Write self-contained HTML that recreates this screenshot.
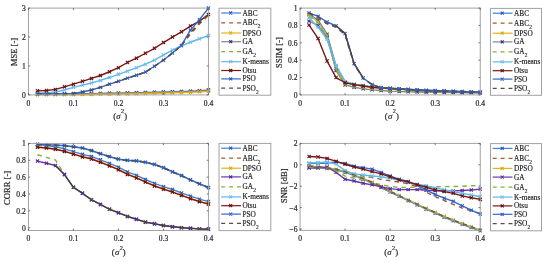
<!DOCTYPE html>
<html><head><meta charset="utf-8"><style>html,body{margin:0;padding:0;background:#fff;overflow:hidden}svg{display:block;filter:blur(0.3px)}</style></head>
<body><svg width="550" height="263" viewBox="0 0 550 263" font-family="'Liberation Serif','Times New Roman',serif">
<rect width="550" height="263" fill="#fff"/>
<clipPath id="c0"><rect x="28.45" y="5.1" width="183.0" height="92.80000000000001"/></clipPath>
<g clip-path="url(#c0)" fill="none" stroke-linejoin="round">
<polyline points="37.45,94.35 46.45,94.30 55.45,94.21 64.45,94.13 73.45,94.02 82.45,93.91 91.45,93.80 100.45,93.66 109.45,93.53 118.45,93.39 127.45,93.25 136.45,93.09 145.45,92.92 154.45,92.70 163.45,92.48 172.45,92.26 181.45,92.01 190.45,91.74 199.45,91.33 208.45,90.78" stroke="#7db33a" stroke-width="1.4" stroke-dasharray="4.5,4.2"/>
<polyline points="37.45,94.25 46.45,94.19 55.45,94.09 64.45,93.99 73.45,93.86 82.45,93.73 91.45,93.60 100.45,93.44 109.45,93.28 118.45,93.12 127.45,92.96 136.45,92.76 145.45,92.57 154.45,92.31 163.45,92.05 172.45,91.79 181.45,91.50 190.45,91.17 199.45,90.69 208.45,90.04" stroke="#85858f" stroke-width="1.4"/>
<path d="M35.85,92.65L39.05,95.85M35.85,95.85L39.05,92.65" stroke="#3b2c91" stroke-width="1.1"/>
<path d="M44.85,92.59L48.05,95.79M44.85,95.79L48.05,92.59" stroke="#3b2c91" stroke-width="1.1"/>
<path d="M53.85,92.49L57.05,95.69M53.85,95.69L57.05,92.49" stroke="#3b2c91" stroke-width="1.1"/>
<path d="M62.85,92.39L66.05,95.59M62.85,95.59L66.05,92.39" stroke="#3b2c91" stroke-width="1.1"/>
<path d="M71.85,92.26L75.05,95.46M71.85,95.46L75.05,92.26" stroke="#3b2c91" stroke-width="1.1"/>
<path d="M80.85,92.13L84.05,95.33M80.85,95.33L84.05,92.13" stroke="#3b2c91" stroke-width="1.1"/>
<path d="M89.85,92.00L93.05,95.20M89.85,95.20L93.05,92.00" stroke="#3b2c91" stroke-width="1.1"/>
<path d="M98.85,91.84L102.05,95.04M98.85,95.04L102.05,91.84" stroke="#3b2c91" stroke-width="1.1"/>
<path d="M107.85,91.68L111.05,94.88M107.85,94.88L111.05,91.68" stroke="#3b2c91" stroke-width="1.1"/>
<path d="M116.85,91.52L120.05,94.72M116.85,94.72L120.05,91.52" stroke="#3b2c91" stroke-width="1.1"/>
<path d="M125.85,91.36L129.05,94.56M125.85,94.56L129.05,91.36" stroke="#3b2c91" stroke-width="1.1"/>
<path d="M134.85,91.16L138.05,94.36M134.85,94.36L138.05,91.16" stroke="#3b2c91" stroke-width="1.1"/>
<path d="M143.85,90.97L147.05,94.17M143.85,94.17L147.05,90.97" stroke="#3b2c91" stroke-width="1.1"/>
<path d="M152.85,90.71L156.05,93.91M152.85,93.91L156.05,90.71" stroke="#3b2c91" stroke-width="1.1"/>
<path d="M161.85,90.45L165.05,93.65M161.85,93.65L165.05,90.45" stroke="#3b2c91" stroke-width="1.1"/>
<path d="M170.85,90.19L174.05,93.39M170.85,93.39L174.05,90.19" stroke="#3b2c91" stroke-width="1.1"/>
<path d="M179.85,89.90L183.05,93.10M179.85,93.10L183.05,89.90" stroke="#3b2c91" stroke-width="1.1"/>
<path d="M188.85,89.57L192.05,92.77M188.85,92.77L192.05,89.57" stroke="#3b2c91" stroke-width="1.1"/>
<path d="M197.85,89.09L201.05,92.29M197.85,92.29L201.05,89.09" stroke="#3b2c91" stroke-width="1.1"/>
<path d="M206.85,88.44L210.05,91.64M206.85,91.64L210.05,88.44" stroke="#3b2c91" stroke-width="1.1"/>
<polyline points="37.45,94.32 46.45,94.26 55.45,94.18 64.45,94.09 73.45,93.97 82.45,93.86 91.45,93.74 100.45,93.60 109.45,93.45 118.45,93.31 127.45,93.16 136.45,92.99 145.45,92.82 154.45,92.59 163.45,92.35 172.45,92.12 181.45,91.86 190.45,91.57 199.45,91.14 208.45,90.56" stroke="#4a7fd6" stroke-width="1.4"/>
<path d="M35.85,92.72L39.05,95.92M35.85,95.92L39.05,92.72" stroke="#1f55c9" stroke-width="1.1"/>
<path d="M44.85,92.66L48.05,95.86M44.85,95.86L48.05,92.66" stroke="#1f55c9" stroke-width="1.1"/>
<path d="M53.85,92.58L57.05,95.78M53.85,95.78L57.05,92.58" stroke="#1f55c9" stroke-width="1.1"/>
<path d="M62.85,92.49L66.05,95.69M62.85,95.69L66.05,92.49" stroke="#1f55c9" stroke-width="1.1"/>
<path d="M71.85,92.37L75.05,95.57M71.85,95.57L75.05,92.37" stroke="#1f55c9" stroke-width="1.1"/>
<path d="M80.85,92.26L84.05,95.46M80.85,95.46L84.05,92.26" stroke="#1f55c9" stroke-width="1.1"/>
<path d="M89.85,92.14L93.05,95.34M89.85,95.34L93.05,92.14" stroke="#1f55c9" stroke-width="1.1"/>
<path d="M98.85,92.00L102.05,95.20M98.85,95.20L102.05,92.00" stroke="#1f55c9" stroke-width="1.1"/>
<path d="M107.85,91.85L111.05,95.05M107.85,95.05L111.05,91.85" stroke="#1f55c9" stroke-width="1.1"/>
<path d="M116.85,91.71L120.05,94.91M116.85,94.91L120.05,91.71" stroke="#1f55c9" stroke-width="1.1"/>
<path d="M125.85,91.56L129.05,94.76M125.85,94.76L129.05,91.56" stroke="#1f55c9" stroke-width="1.1"/>
<path d="M134.85,91.39L138.05,94.59M134.85,94.59L138.05,91.39" stroke="#1f55c9" stroke-width="1.1"/>
<path d="M143.85,91.22L147.05,94.42M143.85,94.42L147.05,91.22" stroke="#1f55c9" stroke-width="1.1"/>
<path d="M152.85,90.99L156.05,94.19M152.85,94.19L156.05,90.99" stroke="#1f55c9" stroke-width="1.1"/>
<path d="M161.85,90.75L165.05,93.95M161.85,93.95L165.05,90.75" stroke="#1f55c9" stroke-width="1.1"/>
<path d="M170.85,90.52L174.05,93.72M170.85,93.72L174.05,90.52" stroke="#1f55c9" stroke-width="1.1"/>
<path d="M179.85,90.26L183.05,93.46M179.85,93.46L183.05,90.26" stroke="#1f55c9" stroke-width="1.1"/>
<path d="M188.85,89.97L192.05,93.17M188.85,93.17L192.05,89.97" stroke="#1f55c9" stroke-width="1.1"/>
<path d="M197.85,89.54L201.05,92.74M197.85,92.74L201.05,89.54" stroke="#1f55c9" stroke-width="1.1"/>
<path d="M206.85,88.96L210.05,92.16M206.85,92.16L210.05,88.96" stroke="#1f55c9" stroke-width="1.1"/>
<polyline points="37.45,94.81 46.45,94.81 55.45,94.81 64.45,94.81 73.45,94.70 82.45,94.58 91.45,94.47 100.45,94.32 109.45,94.18 118.45,94.03 127.45,93.89 136.45,93.71 145.45,93.54 154.45,93.31 163.45,93.08 172.45,92.85 181.45,92.59 190.45,92.30 199.45,91.86 208.45,91.28" stroke="#e3b21e" stroke-width="1.4"/>
<path d="M35.85,93.21L39.05,96.41M35.85,96.41L39.05,93.21" stroke="#e0a800" stroke-width="1.1"/>
<path d="M44.85,93.21L48.05,96.41M44.85,96.41L48.05,93.21" stroke="#e0a800" stroke-width="1.1"/>
<path d="M53.85,93.21L57.05,96.41M53.85,96.41L57.05,93.21" stroke="#e0a800" stroke-width="1.1"/>
<path d="M62.85,93.21L66.05,96.41M62.85,96.41L66.05,93.21" stroke="#e0a800" stroke-width="1.1"/>
<path d="M71.85,93.10L75.05,96.30M71.85,96.30L75.05,93.10" stroke="#e0a800" stroke-width="1.1"/>
<path d="M80.85,92.98L84.05,96.18M80.85,96.18L84.05,92.98" stroke="#e0a800" stroke-width="1.1"/>
<path d="M89.85,92.87L93.05,96.07M89.85,96.07L93.05,92.87" stroke="#e0a800" stroke-width="1.1"/>
<path d="M98.85,92.72L102.05,95.92M98.85,95.92L102.05,92.72" stroke="#e0a800" stroke-width="1.1"/>
<path d="M107.85,92.58L111.05,95.78M107.85,95.78L111.05,92.58" stroke="#e0a800" stroke-width="1.1"/>
<path d="M116.85,92.43L120.05,95.63M116.85,95.63L120.05,92.43" stroke="#e0a800" stroke-width="1.1"/>
<path d="M125.85,92.29L129.05,95.49M125.85,95.49L129.05,92.29" stroke="#e0a800" stroke-width="1.1"/>
<path d="M134.85,92.11L138.05,95.31M134.85,95.31L138.05,92.11" stroke="#e0a800" stroke-width="1.1"/>
<path d="M143.85,91.94L147.05,95.14M143.85,95.14L147.05,91.94" stroke="#e0a800" stroke-width="1.1"/>
<path d="M152.85,91.71L156.05,94.91M152.85,94.91L156.05,91.71" stroke="#e0a800" stroke-width="1.1"/>
<path d="M161.85,91.48L165.05,94.68M161.85,94.68L165.05,91.48" stroke="#e0a800" stroke-width="1.1"/>
<path d="M170.85,91.25L174.05,94.45M170.85,94.45L174.05,91.25" stroke="#e0a800" stroke-width="1.1"/>
<path d="M179.85,90.99L183.05,94.19M179.85,94.19L183.05,90.99" stroke="#e0a800" stroke-width="1.1"/>
<path d="M188.85,90.70L192.05,93.90M188.85,93.90L192.05,90.70" stroke="#e0a800" stroke-width="1.1"/>
<path d="M197.85,90.26L201.05,93.46M197.85,93.46L201.05,90.26" stroke="#e0a800" stroke-width="1.1"/>
<path d="M206.85,89.68L210.05,92.88M206.85,92.88L210.05,89.68" stroke="#e0a800" stroke-width="1.1"/>
<polyline points="37.45,94.03 46.45,94.03 55.45,93.89 64.45,93.74 73.45,93.45 82.45,92.01 91.45,89.98 100.45,87.38 109.45,84.19 118.45,81.30 127.45,78.12 136.45,75.23 145.45,72.04 154.45,66.26 163.45,60.18 172.45,52.95 181.45,45.42 190.45,34.14 199.45,24.01 208.45,15.33" stroke="#a85a30" stroke-width="1.4" stroke-dasharray="4.5,4.2"/>
<polyline points="37.45,92.87 46.45,92.87 55.45,92.01 64.45,89.98 73.45,87.38 82.45,85.06 91.45,83.04 100.45,80.43 109.45,77.54 118.45,74.36 127.45,71.17 136.45,67.70 145.45,64.23 154.45,60.18 163.45,54.97 172.45,50.05 181.45,45.71 190.45,42.24 199.45,38.77 208.45,35.59" stroke="#5db7ec" stroke-width="1.4"/>
<path d="M35.85,91.27L39.05,94.47M35.85,94.47L39.05,91.27" stroke="#6fc0f0" stroke-width="1.1"/>
<path d="M44.85,91.27L48.05,94.47M44.85,94.47L48.05,91.27" stroke="#6fc0f0" stroke-width="1.1"/>
<path d="M53.85,90.41L57.05,93.61M53.85,93.61L57.05,90.41" stroke="#6fc0f0" stroke-width="1.1"/>
<path d="M62.85,88.38L66.05,91.58M62.85,91.58L66.05,88.38" stroke="#6fc0f0" stroke-width="1.1"/>
<path d="M71.85,85.78L75.05,88.98M71.85,88.98L75.05,85.78" stroke="#6fc0f0" stroke-width="1.1"/>
<path d="M80.85,83.46L84.05,86.66M80.85,86.66L84.05,83.46" stroke="#6fc0f0" stroke-width="1.1"/>
<path d="M89.85,81.44L93.05,84.64M89.85,84.64L93.05,81.44" stroke="#6fc0f0" stroke-width="1.1"/>
<path d="M98.85,78.83L102.05,82.03M98.85,82.03L102.05,78.83" stroke="#6fc0f0" stroke-width="1.1"/>
<path d="M107.85,75.94L111.05,79.14M107.85,79.14L111.05,75.94" stroke="#6fc0f0" stroke-width="1.1"/>
<path d="M116.85,72.76L120.05,75.96M116.85,75.96L120.05,72.76" stroke="#6fc0f0" stroke-width="1.1"/>
<path d="M125.85,69.57L129.05,72.77M125.85,72.77L129.05,69.57" stroke="#6fc0f0" stroke-width="1.1"/>
<path d="M134.85,66.10L138.05,69.30M134.85,69.30L138.05,66.10" stroke="#6fc0f0" stroke-width="1.1"/>
<path d="M143.85,62.63L147.05,65.83M143.85,65.83L147.05,62.63" stroke="#6fc0f0" stroke-width="1.1"/>
<path d="M152.85,58.58L156.05,61.78M152.85,61.78L156.05,58.58" stroke="#6fc0f0" stroke-width="1.1"/>
<path d="M161.85,53.37L165.05,56.57M161.85,56.57L165.05,53.37" stroke="#6fc0f0" stroke-width="1.1"/>
<path d="M170.85,48.45L174.05,51.65M170.85,51.65L174.05,48.45" stroke="#6fc0f0" stroke-width="1.1"/>
<path d="M179.85,44.11L183.05,47.31M179.85,47.31L183.05,44.11" stroke="#6fc0f0" stroke-width="1.1"/>
<path d="M188.85,40.64L192.05,43.84M188.85,43.84L192.05,40.64" stroke="#6fc0f0" stroke-width="1.1"/>
<path d="M197.85,37.17L201.05,40.37M197.85,40.37L201.05,37.17" stroke="#6fc0f0" stroke-width="1.1"/>
<path d="M206.85,33.99L210.05,37.19M206.85,37.19L210.05,33.99" stroke="#6fc0f0" stroke-width="1.1"/>
<polyline points="37.45,90.70 46.45,90.56 55.45,89.40 64.45,86.80 73.45,84.19 82.45,81.30 91.45,78.41 100.45,75.51 109.45,71.75 118.45,67.70 127.45,62.49 136.45,58.15 145.45,53.24 154.45,48.32 163.45,42.53 172.45,37.03 181.45,31.83 190.45,26.04 199.45,21.12 208.45,14.47" stroke="#7b1717" stroke-width="1.4"/>
<path d="M35.85,89.10L39.05,92.30M35.85,92.30L39.05,89.10" stroke="#6a1010" stroke-width="1.1"/>
<path d="M44.85,88.96L48.05,92.16M44.85,92.16L48.05,88.96" stroke="#6a1010" stroke-width="1.1"/>
<path d="M53.85,87.80L57.05,91.00M53.85,91.00L57.05,87.80" stroke="#6a1010" stroke-width="1.1"/>
<path d="M62.85,85.20L66.05,88.40M62.85,88.40L66.05,85.20" stroke="#6a1010" stroke-width="1.1"/>
<path d="M71.85,82.59L75.05,85.79M71.85,85.79L75.05,82.59" stroke="#6a1010" stroke-width="1.1"/>
<path d="M80.85,79.70L84.05,82.90M80.85,82.90L84.05,79.70" stroke="#6a1010" stroke-width="1.1"/>
<path d="M89.85,76.81L93.05,80.01M89.85,80.01L93.05,76.81" stroke="#6a1010" stroke-width="1.1"/>
<path d="M98.85,73.91L102.05,77.11M98.85,77.11L102.05,73.91" stroke="#6a1010" stroke-width="1.1"/>
<path d="M107.85,70.15L111.05,73.35M107.85,73.35L111.05,70.15" stroke="#6a1010" stroke-width="1.1"/>
<path d="M116.85,66.10L120.05,69.30M116.85,69.30L120.05,66.10" stroke="#6a1010" stroke-width="1.1"/>
<path d="M125.85,60.89L129.05,64.09M125.85,64.09L129.05,60.89" stroke="#6a1010" stroke-width="1.1"/>
<path d="M134.85,56.55L138.05,59.75M134.85,59.75L138.05,56.55" stroke="#6a1010" stroke-width="1.1"/>
<path d="M143.85,51.64L147.05,54.84M143.85,54.84L147.05,51.64" stroke="#6a1010" stroke-width="1.1"/>
<path d="M152.85,46.72L156.05,49.92M152.85,49.92L156.05,46.72" stroke="#6a1010" stroke-width="1.1"/>
<path d="M161.85,40.93L165.05,44.13M161.85,44.13L165.05,40.93" stroke="#6a1010" stroke-width="1.1"/>
<path d="M170.85,35.43L174.05,38.63M170.85,38.63L174.05,35.43" stroke="#6a1010" stroke-width="1.1"/>
<path d="M179.85,30.23L183.05,33.43M179.85,33.43L183.05,30.23" stroke="#6a1010" stroke-width="1.1"/>
<path d="M188.85,24.44L192.05,27.64M188.85,27.64L192.05,24.44" stroke="#6a1010" stroke-width="1.1"/>
<path d="M197.85,19.52L201.05,22.72M197.85,22.72L201.05,19.52" stroke="#6a1010" stroke-width="1.1"/>
<path d="M206.85,12.87L210.05,16.07M206.85,16.07L210.05,12.87" stroke="#6a1010" stroke-width="1.1"/>
<polyline points="37.45,94.03 46.45,94.03 55.45,93.89 64.45,93.74 73.45,93.45 82.45,92.01 91.45,89.98 100.45,87.38 109.45,84.19 118.45,81.30 127.45,78.12 136.45,75.23 145.45,72.04 154.45,66.26 163.45,60.18 172.45,52.95 181.45,45.42 190.45,30.09 199.45,19.67 208.45,8.10" stroke="#3566c4" stroke-width="1.4"/>
<path d="M35.85,92.43L39.05,95.63M35.85,95.63L39.05,92.43" stroke="#2a5fcf" stroke-width="1.1"/>
<path d="M44.85,92.43L48.05,95.63M44.85,95.63L48.05,92.43" stroke="#2a5fcf" stroke-width="1.1"/>
<path d="M53.85,92.29L57.05,95.49M53.85,95.49L57.05,92.29" stroke="#2a5fcf" stroke-width="1.1"/>
<path d="M62.85,92.14L66.05,95.34M62.85,95.34L66.05,92.14" stroke="#2a5fcf" stroke-width="1.1"/>
<path d="M71.85,91.85L75.05,95.05M71.85,95.05L75.05,91.85" stroke="#2a5fcf" stroke-width="1.1"/>
<path d="M80.85,90.41L84.05,93.61M80.85,93.61L84.05,90.41" stroke="#2a5fcf" stroke-width="1.1"/>
<path d="M89.85,88.38L93.05,91.58M89.85,91.58L93.05,88.38" stroke="#2a5fcf" stroke-width="1.1"/>
<path d="M98.85,85.78L102.05,88.98M98.85,88.98L102.05,85.78" stroke="#2a5fcf" stroke-width="1.1"/>
<path d="M107.85,82.59L111.05,85.79M107.85,85.79L111.05,82.59" stroke="#2a5fcf" stroke-width="1.1"/>
<path d="M116.85,79.70L120.05,82.90M116.85,82.90L120.05,79.70" stroke="#2a5fcf" stroke-width="1.1"/>
<path d="M125.85,76.52L129.05,79.72M125.85,79.72L129.05,76.52" stroke="#2a5fcf" stroke-width="1.1"/>
<path d="M134.85,73.63L138.05,76.83M134.85,76.83L138.05,73.63" stroke="#2a5fcf" stroke-width="1.1"/>
<path d="M143.85,70.44L147.05,73.64M143.85,73.64L147.05,70.44" stroke="#2a5fcf" stroke-width="1.1"/>
<path d="M152.85,64.66L156.05,67.86M152.85,67.86L156.05,64.66" stroke="#2a5fcf" stroke-width="1.1"/>
<path d="M161.85,58.58L165.05,61.78M161.85,61.78L165.05,58.58" stroke="#2a5fcf" stroke-width="1.1"/>
<path d="M170.85,51.35L174.05,54.55M170.85,54.55L174.05,51.35" stroke="#2a5fcf" stroke-width="1.1"/>
<path d="M179.85,43.82L183.05,47.02M179.85,47.02L183.05,43.82" stroke="#2a5fcf" stroke-width="1.1"/>
<path d="M188.85,28.49L192.05,31.69M188.85,31.69L192.05,28.49" stroke="#2a5fcf" stroke-width="1.1"/>
<path d="M197.85,18.07L201.05,21.27M197.85,21.27L201.05,18.07" stroke="#2a5fcf" stroke-width="1.1"/>
<path d="M206.85,6.50L210.05,9.70M206.85,9.70L210.05,6.50" stroke="#2a5fcf" stroke-width="1.1"/>
<polyline points="37.45,94.03 46.45,94.03 55.45,93.89 64.45,93.74 73.45,93.45 82.45,92.01 91.45,89.98 100.45,87.38 109.45,84.19 118.45,81.30 127.45,78.12 136.45,75.23 145.45,72.04 154.45,66.26 163.45,60.18 172.45,52.95 181.45,45.42 190.45,32.69 199.45,22.57 208.45,13.89" stroke="#5a4c42" stroke-width="1.4" stroke-dasharray="4.5,4.2"/>
</g>
<rect x="28.45" y="8.1" width="180.0" height="86.80000000000001" fill="none" stroke="#a2a2a2" stroke-width="1"/>
<path d="M28.45,94.9v-1.8M28.45,8.1v1.8M73.45,94.9v-1.8M73.45,8.1v1.8M118.45,94.9v-1.8M118.45,8.1v1.8M163.45,94.9v-1.8M163.45,8.1v1.8M208.45,94.9v-1.8M208.45,8.1v1.8M28.45,94.90h1.8M208.45,94.90h-1.8M28.45,65.97h1.8M208.45,65.97h-1.8M28.45,37.03h1.8M208.45,37.03h-1.8M28.45,8.10h1.8M208.45,8.10h-1.8" stroke="#555" stroke-width="0.8" fill="none"/>
<text x="28.45" y="105.50" font-size="7.6" fill="#262626" stroke="#262626" stroke-width="0.2" text-anchor="middle">0</text>
<text x="73.45" y="105.50" font-size="7.6" fill="#262626" stroke="#262626" stroke-width="0.2" text-anchor="middle">0.1</text>
<text x="118.45" y="105.50" font-size="7.6" fill="#262626" stroke="#262626" stroke-width="0.2" text-anchor="middle">0.2</text>
<text x="163.45" y="105.50" font-size="7.6" fill="#262626" stroke="#262626" stroke-width="0.2" text-anchor="middle">0.3</text>
<text x="208.45" y="105.50" font-size="7.6" fill="#262626" stroke="#262626" stroke-width="0.2" text-anchor="middle">0.4</text>
<text x="25.85" y="97.80" font-size="7.6" fill="#262626" stroke="#262626" stroke-width="0.2" text-anchor="end">0</text>
<text x="25.85" y="68.87" font-size="7.6" fill="#262626" stroke="#262626" stroke-width="0.2" text-anchor="end">1</text>
<text x="25.85" y="39.93" font-size="7.6" fill="#262626" stroke="#262626" stroke-width="0.2" text-anchor="end">2</text>
<text x="25.85" y="11.00" font-size="7.6" fill="#262626" stroke="#262626" stroke-width="0.2" text-anchor="end">3</text>
<text x="120.15" y="118.60" font-size="8.6" fill="#262626" stroke="#262626" stroke-width="0.2" text-anchor="middle">(<tspan font-style="italic" dx="0.3">σ</tspan><tspan font-size="6.1" dy="-5.2" dx="0.45">2</tspan><tspan dy="5.2" dx="0.2">)</tspan></text>
<text transform="translate(17.20,52.00) rotate(-90)" font-size="8.6" fill="#262626" stroke="#262626" stroke-width="0.2" text-anchor="middle">MSE [-]</text>
<rect x="219" y="8.2" width="51.80000000000001" height="87.0" fill="#fff" stroke="#a2a2a2" stroke-width="1"/>
<line x1="221.20" y1="13.00" x2="241.00" y2="13.00" stroke="#4a7fd6" stroke-width="1.2"/>
<path d="M229.20,11.50L232.20,14.50M229.20,14.50L232.20,11.50" stroke="#1f55c9" stroke-width="1.1"/>
<text transform="translate(242.50,15.50)" font-size="7.3" fill="#1a1a1a" stroke="#1a1a1a" stroke-width="0.15">ABC</text>
<line x1="221.20" y1="22.90" x2="241.00" y2="22.90" stroke="#a85a30" stroke-width="1.2" stroke-dasharray="4,3.9"/>
<text transform="translate(242.50,25.40)" font-size="7.3" fill="#1a1a1a" stroke="#1a1a1a" stroke-width="0.15">ABC<tspan font-size="5.4" dy="3.0" dx="0.2">2</tspan></text>
<line x1="221.20" y1="33.00" x2="241.00" y2="33.00" stroke="#e3b21e" stroke-width="1.2"/>
<path d="M229.20,31.50L232.20,34.50M229.20,34.50L232.20,31.50" stroke="#e0a800" stroke-width="1.1"/>
<text transform="translate(242.50,35.50)" font-size="7.3" fill="#1a1a1a" stroke="#1a1a1a" stroke-width="0.15">DPSO</text>
<line x1="221.20" y1="41.70" x2="241.00" y2="41.70" stroke="#85858f" stroke-width="1.2"/>
<path d="M229.20,40.20L232.20,43.20M229.20,43.20L232.20,40.20" stroke="#3b2c91" stroke-width="1.1"/>
<text transform="translate(242.50,44.20)" font-size="7.3" fill="#1a1a1a" stroke="#1a1a1a" stroke-width="0.15">GA</text>
<line x1="221.20" y1="51.70" x2="241.00" y2="51.70" stroke="#7db33a" stroke-width="1.2" stroke-dasharray="4,3.9"/>
<text transform="translate(242.50,54.20)" font-size="7.3" fill="#1a1a1a" stroke="#1a1a1a" stroke-width="0.15">GA<tspan font-size="5.4" dy="3.0" dx="0.2">2</tspan></text>
<line x1="221.20" y1="61.70" x2="241.00" y2="61.70" stroke="#5db7ec" stroke-width="1.2"/>
<path d="M229.20,60.20L232.20,63.20M229.20,63.20L232.20,60.20" stroke="#6fc0f0" stroke-width="1.1"/>
<text transform="translate(242.50,64.20)" font-size="7.3" fill="#1a1a1a" stroke="#1a1a1a" stroke-width="0.15">K-means</text>
<line x1="221.20" y1="70.50" x2="241.00" y2="70.50" stroke="#7b1717" stroke-width="1.2"/>
<path d="M229.20,69.00L232.20,72.00M229.20,72.00L232.20,69.00" stroke="#6a1010" stroke-width="1.1"/>
<text transform="translate(242.50,73.00)" font-size="7.3" fill="#1a1a1a" stroke="#1a1a1a" stroke-width="0.15">Otsu</text>
<line x1="221.20" y1="78.90" x2="241.00" y2="78.90" stroke="#3566c4" stroke-width="1.2"/>
<path d="M229.20,77.40L232.20,80.40M229.20,80.40L232.20,77.40" stroke="#2a5fcf" stroke-width="1.1"/>
<text transform="translate(242.50,81.40)" font-size="7.3" fill="#1a1a1a" stroke="#1a1a1a" stroke-width="0.15">PSO</text>
<line x1="221.20" y1="88.20" x2="241.00" y2="88.20" stroke="#5a4c42" stroke-width="1.2" stroke-dasharray="4,3.9"/>
<text transform="translate(242.50,90.70)" font-size="7.3" fill="#1a1a1a" stroke="#1a1a1a" stroke-width="0.15">PSO<tspan font-size="5.4" dy="3.0" dx="0.2">2</tspan></text>
<clipPath id="c1"><rect x="300.05" y="5.1" width="183.2" height="92.80000000000001"/></clipPath>
<g clip-path="url(#c1)" fill="none" stroke-linejoin="round">
<polyline points="309.06,14.18 318.07,20.25 327.08,34.14 336.09,66.26 345.10,81.97 354.11,84.48 363.12,85.79 372.13,87.09 381.14,87.87 390.15,88.39 399.16,88.91 408.17,89.52 417.18,90.04 426.19,90.47 435.20,90.82 444.21,91.08 453.22,91.43 462.23,91.69 471.24,91.95 480.25,92.21" stroke="#4a7fd6" stroke-width="1.4"/>
<path d="M307.46,12.58L310.66,15.78M307.46,15.78L310.66,12.58" stroke="#1f55c9" stroke-width="1.1"/>
<path d="M316.47,18.65L319.67,21.85M316.47,21.85L319.67,18.65" stroke="#1f55c9" stroke-width="1.1"/>
<path d="M325.48,32.54L328.68,35.74M325.48,35.74L328.68,32.54" stroke="#1f55c9" stroke-width="1.1"/>
<path d="M334.49,64.66L337.69,67.86M334.49,67.86L337.69,64.66" stroke="#1f55c9" stroke-width="1.1"/>
<path d="M343.50,80.37L346.70,83.57M343.50,83.57L346.70,80.37" stroke="#1f55c9" stroke-width="1.1"/>
<path d="M352.51,82.88L355.71,86.08M352.51,86.08L355.71,82.88" stroke="#1f55c9" stroke-width="1.1"/>
<path d="M361.52,84.19L364.72,87.39M361.52,87.39L364.72,84.19" stroke="#1f55c9" stroke-width="1.1"/>
<path d="M370.53,85.49L373.73,88.69M370.53,88.69L373.73,85.49" stroke="#1f55c9" stroke-width="1.1"/>
<path d="M379.54,86.27L382.74,89.47M379.54,89.47L382.74,86.27" stroke="#1f55c9" stroke-width="1.1"/>
<path d="M388.55,86.79L391.75,89.99M388.55,89.99L391.75,86.79" stroke="#1f55c9" stroke-width="1.1"/>
<path d="M397.56,87.31L400.76,90.51M397.56,90.51L400.76,87.31" stroke="#1f55c9" stroke-width="1.1"/>
<path d="M406.57,87.92L409.77,91.12M406.57,91.12L409.77,87.92" stroke="#1f55c9" stroke-width="1.1"/>
<path d="M415.58,88.44L418.78,91.64M415.58,91.64L418.78,88.44" stroke="#1f55c9" stroke-width="1.1"/>
<path d="M424.59,88.87L427.79,92.07M424.59,92.07L427.79,88.87" stroke="#1f55c9" stroke-width="1.1"/>
<path d="M433.60,89.22L436.80,92.42M433.60,92.42L436.80,89.22" stroke="#1f55c9" stroke-width="1.1"/>
<path d="M442.61,89.48L445.81,92.68M442.61,92.68L445.81,89.48" stroke="#1f55c9" stroke-width="1.1"/>
<path d="M451.62,89.83L454.82,93.03M451.62,93.03L454.82,89.83" stroke="#1f55c9" stroke-width="1.1"/>
<path d="M460.63,90.09L463.83,93.29M460.63,93.29L463.83,90.09" stroke="#1f55c9" stroke-width="1.1"/>
<path d="M469.64,90.35L472.84,93.55M469.64,93.55L472.84,90.35" stroke="#1f55c9" stroke-width="1.1"/>
<path d="M478.65,90.61L481.85,93.81M478.65,93.81L481.85,90.61" stroke="#1f55c9" stroke-width="1.1"/>
<polyline points="309.06,14.18 318.07,18.52 327.08,23.72 336.09,27.20 345.10,35.01 354.11,64.09 363.12,78.41 372.13,84.66 381.14,87.70 390.15,88.22 399.16,88.74 408.17,89.34 417.18,89.87 426.19,90.30 435.20,90.65 444.21,90.91 453.22,91.25 462.23,91.51 471.24,91.78 480.25,92.04" stroke="#a85a30" stroke-width="1.4" stroke-dasharray="4.5,4.2"/>
<polyline points="309.06,15.04 318.07,21.99 327.08,35.88 336.09,68.86 345.10,82.31 354.11,84.83 363.12,86.13 372.13,87.44 381.14,88.22 390.15,88.74 399.16,89.26 408.17,89.87 417.18,90.39 426.19,90.82 435.20,91.17 444.21,91.43 453.22,91.78 462.23,92.04 471.24,92.30 480.25,92.56" stroke="#e3b21e" stroke-width="1.4"/>
<path d="M307.46,13.44L310.66,16.64M307.46,16.64L310.66,13.44" stroke="#e0a800" stroke-width="1.1"/>
<path d="M316.47,20.39L319.67,23.59M316.47,23.59L319.67,20.39" stroke="#e0a800" stroke-width="1.1"/>
<path d="M325.48,34.28L328.68,37.48M325.48,37.48L328.68,34.28" stroke="#e0a800" stroke-width="1.1"/>
<path d="M334.49,67.26L337.69,70.46M334.49,70.46L337.69,67.26" stroke="#e0a800" stroke-width="1.1"/>
<path d="M343.50,80.71L346.70,83.91M343.50,83.91L346.70,80.71" stroke="#e0a800" stroke-width="1.1"/>
<path d="M352.51,83.23L355.71,86.43M352.51,86.43L355.71,83.23" stroke="#e0a800" stroke-width="1.1"/>
<path d="M361.52,84.53L364.72,87.73M361.52,87.73L364.72,84.53" stroke="#e0a800" stroke-width="1.1"/>
<path d="M370.53,85.84L373.73,89.04M370.53,89.04L373.73,85.84" stroke="#e0a800" stroke-width="1.1"/>
<path d="M379.54,86.62L382.74,89.82M379.54,89.82L382.74,86.62" stroke="#e0a800" stroke-width="1.1"/>
<path d="M388.55,87.14L391.75,90.34M388.55,90.34L391.75,87.14" stroke="#e0a800" stroke-width="1.1"/>
<path d="M397.56,87.66L400.76,90.86M397.56,90.86L400.76,87.66" stroke="#e0a800" stroke-width="1.1"/>
<path d="M406.57,88.27L409.77,91.47M406.57,91.47L409.77,88.27" stroke="#e0a800" stroke-width="1.1"/>
<path d="M415.58,88.79L418.78,91.99M415.58,91.99L418.78,88.79" stroke="#e0a800" stroke-width="1.1"/>
<path d="M424.59,89.22L427.79,92.42M424.59,92.42L427.79,89.22" stroke="#e0a800" stroke-width="1.1"/>
<path d="M433.60,89.57L436.80,92.77M433.60,92.77L436.80,89.57" stroke="#e0a800" stroke-width="1.1"/>
<path d="M442.61,89.83L445.81,93.03M442.61,93.03L445.81,89.83" stroke="#e0a800" stroke-width="1.1"/>
<path d="M451.62,90.18L454.82,93.38M451.62,93.38L454.82,90.18" stroke="#e0a800" stroke-width="1.1"/>
<path d="M460.63,90.44L463.83,93.64M460.63,93.64L463.83,90.44" stroke="#e0a800" stroke-width="1.1"/>
<path d="M469.64,90.70L472.84,93.90M469.64,93.90L472.84,90.70" stroke="#e0a800" stroke-width="1.1"/>
<path d="M478.65,90.96L481.85,94.16M478.65,94.16L481.85,90.96" stroke="#e0a800" stroke-width="1.1"/>
<polyline points="309.06,21.12 318.07,25.46 327.08,37.61 336.09,70.60 345.10,84.92 354.11,87.26 363.12,88.82 372.13,89.87 381.14,90.56 390.15,91.17 399.16,91.51 408.17,91.86 417.18,92.04 426.19,92.21 435.20,92.38 444.21,92.47 453.22,92.56 462.23,92.64 471.24,92.73 480.25,92.82" stroke="#85858f" stroke-width="1.4"/>
<path d="M307.46,19.52L310.66,22.72M307.46,22.72L310.66,19.52" stroke="#3b2c91" stroke-width="1.1"/>
<path d="M316.47,23.86L319.67,27.06M316.47,27.06L319.67,23.86" stroke="#3b2c91" stroke-width="1.1"/>
<path d="M325.48,36.01L328.68,39.21M325.48,39.21L328.68,36.01" stroke="#3b2c91" stroke-width="1.1"/>
<path d="M334.49,69.00L337.69,72.20M334.49,72.20L337.69,69.00" stroke="#3b2c91" stroke-width="1.1"/>
<path d="M343.50,83.32L346.70,86.52M343.50,86.52L346.70,83.32" stroke="#3b2c91" stroke-width="1.1"/>
<path d="M352.51,85.66L355.71,88.86M352.51,88.86L355.71,85.66" stroke="#3b2c91" stroke-width="1.1"/>
<path d="M361.52,87.22L364.72,90.42M361.52,90.42L364.72,87.22" stroke="#3b2c91" stroke-width="1.1"/>
<path d="M370.53,88.27L373.73,91.47M370.53,91.47L373.73,88.27" stroke="#3b2c91" stroke-width="1.1"/>
<path d="M379.54,88.96L382.74,92.16M379.54,92.16L382.74,88.96" stroke="#3b2c91" stroke-width="1.1"/>
<path d="M388.55,89.57L391.75,92.77M388.55,92.77L391.75,89.57" stroke="#3b2c91" stroke-width="1.1"/>
<path d="M397.56,89.91L400.76,93.11M397.56,93.11L400.76,89.91" stroke="#3b2c91" stroke-width="1.1"/>
<path d="M406.57,90.26L409.77,93.46M406.57,93.46L409.77,90.26" stroke="#3b2c91" stroke-width="1.1"/>
<path d="M415.58,90.44L418.78,93.64M415.58,93.64L418.78,90.44" stroke="#3b2c91" stroke-width="1.1"/>
<path d="M424.59,90.61L427.79,93.81M424.59,93.81L427.79,90.61" stroke="#3b2c91" stroke-width="1.1"/>
<path d="M433.60,90.78L436.80,93.98M433.60,93.98L436.80,90.78" stroke="#3b2c91" stroke-width="1.1"/>
<path d="M442.61,90.87L445.81,94.07M442.61,94.07L445.81,90.87" stroke="#3b2c91" stroke-width="1.1"/>
<path d="M451.62,90.96L454.82,94.16M451.62,94.16L454.82,90.96" stroke="#3b2c91" stroke-width="1.1"/>
<path d="M460.63,91.04L463.83,94.24M460.63,94.24L463.83,91.04" stroke="#3b2c91" stroke-width="1.1"/>
<path d="M469.64,91.13L472.84,94.33M469.64,94.33L472.84,91.13" stroke="#3b2c91" stroke-width="1.1"/>
<path d="M478.65,91.22L481.85,94.42M478.65,94.42L481.85,91.22" stroke="#3b2c91" stroke-width="1.1"/>
<polyline points="309.06,15.91 318.07,22.86 327.08,36.74 336.09,69.73 345.10,84.74 354.11,87.09 363.12,88.65 372.13,89.69 381.14,90.39 390.15,90.99 399.16,91.34 408.17,91.69 417.18,91.86 426.19,92.04 435.20,92.21 444.21,92.30 453.22,92.38 462.23,92.47 471.24,92.56 480.25,92.64" stroke="#7db33a" stroke-width="1.4" stroke-dasharray="4.5,4.2"/>
<polyline points="309.06,17.65 318.07,27.20 327.08,39.35 336.09,65.39 345.10,81.45 354.11,84.22 363.12,85.53 372.13,86.83 381.14,87.61 390.15,88.13 399.16,88.65 408.17,89.26 417.18,89.78 426.19,90.21 435.20,90.56 444.21,90.82 453.22,91.17 462.23,91.43 471.24,91.69 480.25,91.95" stroke="#5db7ec" stroke-width="1.4"/>
<path d="M307.46,16.05L310.66,19.25M307.46,19.25L310.66,16.05" stroke="#6fc0f0" stroke-width="1.1"/>
<path d="M316.47,25.60L319.67,28.80M316.47,28.80L319.67,25.60" stroke="#6fc0f0" stroke-width="1.1"/>
<path d="M325.48,37.75L328.68,40.95M325.48,40.95L328.68,37.75" stroke="#6fc0f0" stroke-width="1.1"/>
<path d="M334.49,63.79L337.69,66.99M334.49,66.99L337.69,63.79" stroke="#6fc0f0" stroke-width="1.1"/>
<path d="M343.50,79.85L346.70,83.05M343.50,83.05L346.70,79.85" stroke="#6fc0f0" stroke-width="1.1"/>
<path d="M352.51,82.62L355.71,85.82M352.51,85.82L355.71,82.62" stroke="#6fc0f0" stroke-width="1.1"/>
<path d="M361.52,83.93L364.72,87.13M361.52,87.13L364.72,83.93" stroke="#6fc0f0" stroke-width="1.1"/>
<path d="M370.53,85.23L373.73,88.43M370.53,88.43L373.73,85.23" stroke="#6fc0f0" stroke-width="1.1"/>
<path d="M379.54,86.01L382.74,89.21M379.54,89.21L382.74,86.01" stroke="#6fc0f0" stroke-width="1.1"/>
<path d="M388.55,86.53L391.75,89.73M388.55,89.73L391.75,86.53" stroke="#6fc0f0" stroke-width="1.1"/>
<path d="M397.56,87.05L400.76,90.25M397.56,90.25L400.76,87.05" stroke="#6fc0f0" stroke-width="1.1"/>
<path d="M406.57,87.66L409.77,90.86M406.57,90.86L409.77,87.66" stroke="#6fc0f0" stroke-width="1.1"/>
<path d="M415.58,88.18L418.78,91.38M415.58,91.38L418.78,88.18" stroke="#6fc0f0" stroke-width="1.1"/>
<path d="M424.59,88.61L427.79,91.81M424.59,91.81L427.79,88.61" stroke="#6fc0f0" stroke-width="1.1"/>
<path d="M433.60,88.96L436.80,92.16M433.60,92.16L436.80,88.96" stroke="#6fc0f0" stroke-width="1.1"/>
<path d="M442.61,89.22L445.81,92.42M442.61,92.42L445.81,89.22" stroke="#6fc0f0" stroke-width="1.1"/>
<path d="M451.62,89.57L454.82,92.77M451.62,92.77L454.82,89.57" stroke="#6fc0f0" stroke-width="1.1"/>
<path d="M460.63,89.83L463.83,93.03M460.63,93.03L463.83,89.83" stroke="#6fc0f0" stroke-width="1.1"/>
<path d="M469.64,90.09L472.84,93.29M469.64,93.29L472.84,90.09" stroke="#6fc0f0" stroke-width="1.1"/>
<path d="M478.65,90.35L481.85,93.55M478.65,93.55L481.85,90.35" stroke="#6fc0f0" stroke-width="1.1"/>
<polyline points="309.06,25.03 318.07,38.48 327.08,61.05 336.09,77.54 345.10,82.75 354.11,84.66 363.12,85.96 372.13,87.26 381.14,88.04 390.15,88.56 399.16,89.08 408.17,89.69 417.18,90.21 426.19,90.65 435.20,90.99 444.21,91.25 453.22,91.60 462.23,91.86 471.24,92.12 480.25,92.38" stroke="#7b1717" stroke-width="1.4"/>
<path d="M307.46,23.43L310.66,26.63M307.46,26.63L310.66,23.43" stroke="#6a1010" stroke-width="1.1"/>
<path d="M316.47,36.88L319.67,40.08M316.47,40.08L319.67,36.88" stroke="#6a1010" stroke-width="1.1"/>
<path d="M325.48,59.45L328.68,62.65M325.48,62.65L328.68,59.45" stroke="#6a1010" stroke-width="1.1"/>
<path d="M334.49,75.94L337.69,79.14M334.49,79.14L337.69,75.94" stroke="#6a1010" stroke-width="1.1"/>
<path d="M343.50,81.15L346.70,84.35M343.50,84.35L346.70,81.15" stroke="#6a1010" stroke-width="1.1"/>
<path d="M352.51,83.06L355.71,86.26M352.51,86.26L355.71,83.06" stroke="#6a1010" stroke-width="1.1"/>
<path d="M361.52,84.36L364.72,87.56M361.52,87.56L364.72,84.36" stroke="#6a1010" stroke-width="1.1"/>
<path d="M370.53,85.66L373.73,88.86M370.53,88.86L373.73,85.66" stroke="#6a1010" stroke-width="1.1"/>
<path d="M379.54,86.44L382.74,89.64M379.54,89.64L382.74,86.44" stroke="#6a1010" stroke-width="1.1"/>
<path d="M388.55,86.96L391.75,90.16M388.55,90.16L391.75,86.96" stroke="#6a1010" stroke-width="1.1"/>
<path d="M397.56,87.48L400.76,90.68M397.56,90.68L400.76,87.48" stroke="#6a1010" stroke-width="1.1"/>
<path d="M406.57,88.09L409.77,91.29M406.57,91.29L409.77,88.09" stroke="#6a1010" stroke-width="1.1"/>
<path d="M415.58,88.61L418.78,91.81M415.58,91.81L418.78,88.61" stroke="#6a1010" stroke-width="1.1"/>
<path d="M424.59,89.05L427.79,92.25M424.59,92.25L427.79,89.05" stroke="#6a1010" stroke-width="1.1"/>
<path d="M433.60,89.39L436.80,92.59M433.60,92.59L436.80,89.39" stroke="#6a1010" stroke-width="1.1"/>
<path d="M442.61,89.65L445.81,92.85M442.61,92.85L445.81,89.65" stroke="#6a1010" stroke-width="1.1"/>
<path d="M451.62,90.00L454.82,93.20M451.62,93.20L454.82,90.00" stroke="#6a1010" stroke-width="1.1"/>
<path d="M460.63,90.26L463.83,93.46M460.63,93.46L463.83,90.26" stroke="#6a1010" stroke-width="1.1"/>
<path d="M469.64,90.52L472.84,93.72M469.64,93.72L472.84,90.52" stroke="#6a1010" stroke-width="1.1"/>
<path d="M478.65,90.78L481.85,93.98M478.65,93.98L481.85,90.78" stroke="#6a1010" stroke-width="1.1"/>
<polyline points="309.06,12.87 318.07,16.35 327.08,21.99 336.09,25.81 345.10,33.45 354.11,63.65 363.12,77.97 372.13,84.48 381.14,87.87 390.15,88.39 399.16,88.91 408.17,89.52 417.18,90.04 426.19,90.47 435.20,90.82 444.21,91.08 453.22,91.43 462.23,91.69 471.24,91.95 480.25,92.21" stroke="#3566c4" stroke-width="1.4"/>
<path d="M307.46,11.27L310.66,14.47M307.46,14.47L310.66,11.27" stroke="#2a5fcf" stroke-width="1.1"/>
<path d="M316.47,14.75L319.67,17.95M316.47,17.95L319.67,14.75" stroke="#2a5fcf" stroke-width="1.1"/>
<path d="M325.48,20.39L328.68,23.59M325.48,23.59L328.68,20.39" stroke="#2a5fcf" stroke-width="1.1"/>
<path d="M334.49,24.21L337.69,27.41M334.49,27.41L337.69,24.21" stroke="#2a5fcf" stroke-width="1.1"/>
<path d="M343.50,31.85L346.70,35.05M343.50,35.05L346.70,31.85" stroke="#2a5fcf" stroke-width="1.1"/>
<path d="M352.51,62.05L355.71,65.25M352.51,65.25L355.71,62.05" stroke="#2a5fcf" stroke-width="1.1"/>
<path d="M361.52,76.37L364.72,79.57M361.52,79.57L364.72,76.37" stroke="#2a5fcf" stroke-width="1.1"/>
<path d="M370.53,82.88L373.73,86.08M370.53,86.08L373.73,82.88" stroke="#2a5fcf" stroke-width="1.1"/>
<path d="M379.54,86.27L382.74,89.47M379.54,89.47L382.74,86.27" stroke="#2a5fcf" stroke-width="1.1"/>
<path d="M388.55,86.79L391.75,89.99M388.55,89.99L391.75,86.79" stroke="#2a5fcf" stroke-width="1.1"/>
<path d="M397.56,87.31L400.76,90.51M397.56,90.51L400.76,87.31" stroke="#2a5fcf" stroke-width="1.1"/>
<path d="M406.57,87.92L409.77,91.12M406.57,91.12L409.77,87.92" stroke="#2a5fcf" stroke-width="1.1"/>
<path d="M415.58,88.44L418.78,91.64M415.58,91.64L418.78,88.44" stroke="#2a5fcf" stroke-width="1.1"/>
<path d="M424.59,88.87L427.79,92.07M424.59,92.07L427.79,88.87" stroke="#2a5fcf" stroke-width="1.1"/>
<path d="M433.60,89.22L436.80,92.42M433.60,92.42L436.80,89.22" stroke="#2a5fcf" stroke-width="1.1"/>
<path d="M442.61,89.48L445.81,92.68M442.61,92.68L445.81,89.48" stroke="#2a5fcf" stroke-width="1.1"/>
<path d="M451.62,89.83L454.82,93.03M451.62,93.03L454.82,89.83" stroke="#2a5fcf" stroke-width="1.1"/>
<path d="M460.63,90.09L463.83,93.29M460.63,93.29L463.83,90.09" stroke="#2a5fcf" stroke-width="1.1"/>
<path d="M469.64,90.35L472.84,93.55M469.64,93.55L472.84,90.35" stroke="#2a5fcf" stroke-width="1.1"/>
<path d="M478.65,90.61L481.85,93.81M478.65,93.81L481.85,90.61" stroke="#2a5fcf" stroke-width="1.1"/>
<polyline points="309.06,13.31 318.07,16.78 327.08,23.72 336.09,26.76 345.10,34.14 354.11,64.09 363.12,78.41 372.13,84.66 381.14,87.87 390.15,88.39 399.16,88.91 408.17,89.52 417.18,90.04 426.19,90.47 435.20,90.82 444.21,91.08 453.22,91.43 462.23,91.69 471.24,91.95 480.25,92.21" stroke="#5a4c42" stroke-width="1.4" stroke-dasharray="4.5,4.2"/>
<polyline points="336.09,25.81 345.10,33.45 354.11,63.65 363.12,77.97" stroke="#4a4646" stroke-width="1.4"/>
</g>
<rect x="300.05" y="8.1" width="180.2" height="86.80000000000001" fill="none" stroke="#a2a2a2" stroke-width="1"/>
<path d="M300.05,94.9v-1.8M300.05,8.1v1.8M345.10,94.9v-1.8M345.10,8.1v1.8M390.15,94.9v-1.8M390.15,8.1v1.8M435.20,94.9v-1.8M435.20,8.1v1.8M480.25,94.9v-1.8M480.25,8.1v1.8M300.05,94.90h1.8M480.25,94.90h-1.8M300.05,77.54h1.8M480.25,77.54h-1.8M300.05,60.18h1.8M480.25,60.18h-1.8M300.05,42.82h1.8M480.25,42.82h-1.8M300.05,25.46h1.8M480.25,25.46h-1.8M300.05,8.10h1.8M480.25,8.10h-1.8" stroke="#555" stroke-width="0.8" fill="none"/>
<text x="300.05" y="105.50" font-size="7.6" fill="#262626" stroke="#262626" stroke-width="0.2" text-anchor="middle">0</text>
<text x="345.10" y="105.50" font-size="7.6" fill="#262626" stroke="#262626" stroke-width="0.2" text-anchor="middle">0.1</text>
<text x="390.15" y="105.50" font-size="7.6" fill="#262626" stroke="#262626" stroke-width="0.2" text-anchor="middle">0.2</text>
<text x="435.20" y="105.50" font-size="7.6" fill="#262626" stroke="#262626" stroke-width="0.2" text-anchor="middle">0.3</text>
<text x="480.25" y="105.50" font-size="7.6" fill="#262626" stroke="#262626" stroke-width="0.2" text-anchor="middle">0.4</text>
<text x="297.45" y="97.80" font-size="7.6" fill="#262626" stroke="#262626" stroke-width="0.2" text-anchor="end">0</text>
<text x="297.45" y="80.44" font-size="7.6" fill="#262626" stroke="#262626" stroke-width="0.2" text-anchor="end">0.2</text>
<text x="297.45" y="63.08" font-size="7.6" fill="#262626" stroke="#262626" stroke-width="0.2" text-anchor="end">0.4</text>
<text x="297.45" y="45.72" font-size="7.6" fill="#262626" stroke="#262626" stroke-width="0.2" text-anchor="end">0.6</text>
<text x="297.45" y="28.36" font-size="7.6" fill="#262626" stroke="#262626" stroke-width="0.2" text-anchor="end">0.8</text>
<text x="297.45" y="11.00" font-size="7.6" fill="#262626" stroke="#262626" stroke-width="0.2" text-anchor="end">1</text>
<text x="391.85" y="118.60" font-size="8.6" fill="#262626" stroke="#262626" stroke-width="0.2" text-anchor="middle">(<tspan font-style="italic" dx="0.3">σ</tspan><tspan font-size="6.1" dy="-5.2" dx="0.45">2</tspan><tspan dy="5.2" dx="0.2">)</tspan></text>
<text transform="translate(281.70,52.50) rotate(-90)" font-size="8.6" fill="#262626" stroke="#262626" stroke-width="0.2" text-anchor="middle">SSIM [-]</text>
<rect x="490.5" y="8.4" width="51.0" height="86.89999999999999" fill="#fff" stroke="#a2a2a2" stroke-width="1"/>
<line x1="492.70" y1="13.20" x2="512.50" y2="13.20" stroke="#4a7fd6" stroke-width="1.2"/>
<path d="M500.70,11.70L503.70,14.70M500.70,14.70L503.70,11.70" stroke="#1f55c9" stroke-width="1.1"/>
<text transform="translate(514.00,15.70)" font-size="7.3" fill="#1a1a1a" stroke="#1a1a1a" stroke-width="0.15">ABC</text>
<line x1="492.70" y1="23.10" x2="512.50" y2="23.10" stroke="#a85a30" stroke-width="1.2" stroke-dasharray="4,3.9"/>
<text transform="translate(514.00,25.60)" font-size="7.3" fill="#1a1a1a" stroke="#1a1a1a" stroke-width="0.15">ABC<tspan font-size="5.4" dy="3.0" dx="0.2">2</tspan></text>
<line x1="492.70" y1="33.20" x2="512.50" y2="33.20" stroke="#e3b21e" stroke-width="1.2"/>
<path d="M500.70,31.70L503.70,34.70M500.70,34.70L503.70,31.70" stroke="#e0a800" stroke-width="1.1"/>
<text transform="translate(514.00,35.70)" font-size="7.3" fill="#1a1a1a" stroke="#1a1a1a" stroke-width="0.15">DPSO</text>
<line x1="492.70" y1="41.90" x2="512.50" y2="41.90" stroke="#85858f" stroke-width="1.2"/>
<path d="M500.70,40.40L503.70,43.40M500.70,43.40L503.70,40.40" stroke="#3b2c91" stroke-width="1.1"/>
<text transform="translate(514.00,44.40)" font-size="7.3" fill="#1a1a1a" stroke="#1a1a1a" stroke-width="0.15">GA</text>
<line x1="492.70" y1="51.90" x2="512.50" y2="51.90" stroke="#7db33a" stroke-width="1.2" stroke-dasharray="4,3.9"/>
<text transform="translate(514.00,54.40)" font-size="7.3" fill="#1a1a1a" stroke="#1a1a1a" stroke-width="0.15">GA<tspan font-size="5.4" dy="3.0" dx="0.2">2</tspan></text>
<line x1="492.70" y1="61.90" x2="512.50" y2="61.90" stroke="#5db7ec" stroke-width="1.2"/>
<path d="M500.70,60.40L503.70,63.40M500.70,63.40L503.70,60.40" stroke="#6fc0f0" stroke-width="1.1"/>
<text transform="translate(514.00,64.40)" font-size="7.3" fill="#1a1a1a" stroke="#1a1a1a" stroke-width="0.15">K-means</text>
<line x1="492.70" y1="70.70" x2="512.50" y2="70.70" stroke="#7b1717" stroke-width="1.2"/>
<path d="M500.70,69.20L503.70,72.20M500.70,72.20L503.70,69.20" stroke="#6a1010" stroke-width="1.1"/>
<text transform="translate(514.00,73.20)" font-size="7.3" fill="#1a1a1a" stroke="#1a1a1a" stroke-width="0.15">Otsu</text>
<line x1="492.70" y1="79.10" x2="512.50" y2="79.10" stroke="#3566c4" stroke-width="1.2"/>
<path d="M500.70,77.60L503.70,80.60M500.70,80.60L503.70,77.60" stroke="#2a5fcf" stroke-width="1.1"/>
<text transform="translate(514.00,81.60)" font-size="7.3" fill="#1a1a1a" stroke="#1a1a1a" stroke-width="0.15">PSO</text>
<line x1="492.70" y1="88.40" x2="512.50" y2="88.40" stroke="#5a4c42" stroke-width="1.2" stroke-dasharray="4,3.9"/>
<text transform="translate(514.00,90.90)" font-size="7.3" fill="#1a1a1a" stroke="#1a1a1a" stroke-width="0.15">PSO<tspan font-size="5.4" dy="3.0" dx="0.2">2</tspan></text>
<clipPath id="c2"><rect x="28.45" y="140.4" width="183.0" height="93.1"/></clipPath>
<g clip-path="url(#c2)" fill="none" stroke-linejoin="round">
<polyline points="37.45,144.66 46.45,145.51 55.45,146.77 64.45,148.88 73.45,151.66 82.45,154.36 91.45,156.47 100.45,159.84 109.45,163.38 118.45,167.18 127.45,171.90 136.45,175.44 145.45,179.49 154.45,183.45 163.45,186.65 172.45,189.52 181.45,192.89 190.45,196.18 199.45,199.13 208.45,201.58" stroke="#4a7fd6" stroke-width="1.4"/>
<path d="M35.85,143.06L39.05,146.26M35.85,146.26L39.05,143.06" stroke="#1f55c9" stroke-width="1.1"/>
<path d="M44.85,143.91L48.05,147.11M44.85,147.11L48.05,143.91" stroke="#1f55c9" stroke-width="1.1"/>
<path d="M53.85,145.17L57.05,148.37M53.85,148.37L57.05,145.17" stroke="#1f55c9" stroke-width="1.1"/>
<path d="M62.85,147.28L66.05,150.48M62.85,150.48L66.05,147.28" stroke="#1f55c9" stroke-width="1.1"/>
<path d="M71.85,150.06L75.05,153.26M71.85,153.26L75.05,150.06" stroke="#1f55c9" stroke-width="1.1"/>
<path d="M80.85,152.76L84.05,155.96M80.85,155.96L84.05,152.76" stroke="#1f55c9" stroke-width="1.1"/>
<path d="M89.85,154.87L93.05,158.07M89.85,158.07L93.05,154.87" stroke="#1f55c9" stroke-width="1.1"/>
<path d="M98.85,158.24L102.05,161.44M98.85,161.44L102.05,158.24" stroke="#1f55c9" stroke-width="1.1"/>
<path d="M107.85,161.78L111.05,164.98M107.85,164.98L111.05,161.78" stroke="#1f55c9" stroke-width="1.1"/>
<path d="M116.85,165.58L120.05,168.78M116.85,168.78L120.05,165.58" stroke="#1f55c9" stroke-width="1.1"/>
<path d="M125.85,170.30L129.05,173.50M125.85,173.50L129.05,170.30" stroke="#1f55c9" stroke-width="1.1"/>
<path d="M134.85,173.84L138.05,177.04M134.85,177.04L138.05,173.84" stroke="#1f55c9" stroke-width="1.1"/>
<path d="M143.85,177.89L147.05,181.09M143.85,181.09L147.05,177.89" stroke="#1f55c9" stroke-width="1.1"/>
<path d="M152.85,181.85L156.05,185.05M152.85,185.05L156.05,181.85" stroke="#1f55c9" stroke-width="1.1"/>
<path d="M161.85,185.05L165.05,188.25M161.85,188.25L165.05,185.05" stroke="#1f55c9" stroke-width="1.1"/>
<path d="M170.85,187.92L174.05,191.12M170.85,191.12L174.05,187.92" stroke="#1f55c9" stroke-width="1.1"/>
<path d="M179.85,191.29L183.05,194.49M179.85,194.49L183.05,191.29" stroke="#1f55c9" stroke-width="1.1"/>
<path d="M188.85,194.58L192.05,197.78M188.85,197.78L192.05,194.58" stroke="#1f55c9" stroke-width="1.1"/>
<path d="M197.85,197.53L201.05,200.73M197.85,200.73L201.05,197.53" stroke="#1f55c9" stroke-width="1.1"/>
<path d="M206.85,199.98L210.05,203.18M206.85,203.18L210.05,199.98" stroke="#1f55c9" stroke-width="1.1"/>
<polyline points="37.45,144.24 46.45,144.66 55.45,145.09 64.45,145.51 73.45,146.69 82.45,147.87 91.45,150.48 100.45,153.60 109.45,156.47 118.45,159.08 127.45,160.26 136.45,160.69 145.45,162.12 154.45,164.31 163.45,167.60 172.45,171.73 181.45,175.44 190.45,179.83 199.45,183.70 208.45,187.50" stroke="#a85a30" stroke-width="1.4" stroke-dasharray="4.5,4.2"/>
<polyline points="37.45,146.86 46.45,147.70 55.45,148.96 64.45,151.07 73.45,153.86 82.45,156.55 91.45,158.66 100.45,162.03 109.45,165.58 118.45,169.37 127.45,174.09 136.45,177.63 145.45,181.68 154.45,185.64 163.45,188.85 172.45,191.71 181.45,195.09 190.45,198.38 199.45,201.33 208.45,203.77" stroke="#e3b21e" stroke-width="1.4"/>
<path d="M35.85,145.26L39.05,148.46M35.85,148.46L39.05,145.26" stroke="#e0a800" stroke-width="1.1"/>
<path d="M44.85,146.10L48.05,149.30M44.85,149.30L48.05,146.10" stroke="#e0a800" stroke-width="1.1"/>
<path d="M53.85,147.36L57.05,150.56M53.85,150.56L57.05,147.36" stroke="#e0a800" stroke-width="1.1"/>
<path d="M62.85,149.47L66.05,152.67M62.85,152.67L66.05,149.47" stroke="#e0a800" stroke-width="1.1"/>
<path d="M71.85,152.26L75.05,155.46M71.85,155.46L75.05,152.26" stroke="#e0a800" stroke-width="1.1"/>
<path d="M80.85,154.95L84.05,158.15M80.85,158.15L84.05,154.95" stroke="#e0a800" stroke-width="1.1"/>
<path d="M89.85,157.06L93.05,160.26M89.85,160.26L93.05,157.06" stroke="#e0a800" stroke-width="1.1"/>
<path d="M98.85,160.43L102.05,163.63M98.85,163.63L102.05,160.43" stroke="#e0a800" stroke-width="1.1"/>
<path d="M107.85,163.98L111.05,167.18M107.85,167.18L111.05,163.98" stroke="#e0a800" stroke-width="1.1"/>
<path d="M116.85,167.77L120.05,170.97M116.85,170.97L120.05,167.77" stroke="#e0a800" stroke-width="1.1"/>
<path d="M125.85,172.49L129.05,175.69M125.85,175.69L129.05,172.49" stroke="#e0a800" stroke-width="1.1"/>
<path d="M134.85,176.03L138.05,179.23M134.85,179.23L138.05,176.03" stroke="#e0a800" stroke-width="1.1"/>
<path d="M143.85,180.08L147.05,183.28M143.85,183.28L147.05,180.08" stroke="#e0a800" stroke-width="1.1"/>
<path d="M152.85,184.04L156.05,187.24M152.85,187.24L156.05,184.04" stroke="#e0a800" stroke-width="1.1"/>
<path d="M161.85,187.25L165.05,190.45M161.85,190.45L165.05,187.25" stroke="#e0a800" stroke-width="1.1"/>
<path d="M170.85,190.11L174.05,193.31M170.85,193.31L174.05,190.11" stroke="#e0a800" stroke-width="1.1"/>
<path d="M179.85,193.49L183.05,196.69M179.85,196.69L183.05,193.49" stroke="#e0a800" stroke-width="1.1"/>
<path d="M188.85,196.78L192.05,199.98M188.85,199.98L192.05,196.78" stroke="#e0a800" stroke-width="1.1"/>
<path d="M197.85,199.73L201.05,202.93M197.85,202.93L201.05,199.73" stroke="#e0a800" stroke-width="1.1"/>
<path d="M206.85,202.17L210.05,205.37M206.85,205.37L210.05,202.17" stroke="#e0a800" stroke-width="1.1"/>
<polyline points="37.45,161.11 46.45,163.30 55.45,165.49 64.45,174.60 73.45,187.33 82.45,193.32 91.45,199.72 100.45,204.45 109.45,209.25 118.45,212.71 127.45,216.42 136.45,219.29 145.45,222.15 154.45,223.75 163.45,225.53 172.45,226.71 181.45,227.72 190.45,228.31 199.45,228.90 208.45,229.32" stroke="#6b35a6" stroke-width="1.4"/>
<path d="M35.85,159.51L39.05,162.71M35.85,162.71L39.05,159.51" stroke="#5a2a9a" stroke-width="1.1"/>
<path d="M44.85,161.70L48.05,164.90M44.85,164.90L48.05,161.70" stroke="#5a2a9a" stroke-width="1.1"/>
<path d="M53.85,163.89L57.05,167.09M53.85,167.09L57.05,163.89" stroke="#5a2a9a" stroke-width="1.1"/>
<path d="M62.85,173.00L66.05,176.20M62.85,176.20L66.05,173.00" stroke="#5a2a9a" stroke-width="1.1"/>
<path d="M71.85,185.73L75.05,188.93M71.85,188.93L75.05,185.73" stroke="#5a2a9a" stroke-width="1.1"/>
<path d="M80.85,191.72L84.05,194.92M80.85,194.92L84.05,191.72" stroke="#5a2a9a" stroke-width="1.1"/>
<path d="M89.85,198.12L93.05,201.32M89.85,201.32L93.05,198.12" stroke="#5a2a9a" stroke-width="1.1"/>
<path d="M98.85,202.85L102.05,206.05M98.85,206.05L102.05,202.85" stroke="#5a2a9a" stroke-width="1.1"/>
<path d="M107.85,207.65L111.05,210.85M107.85,210.85L111.05,207.65" stroke="#5a2a9a" stroke-width="1.1"/>
<path d="M116.85,211.11L120.05,214.31M116.85,214.31L120.05,211.11" stroke="#5a2a9a" stroke-width="1.1"/>
<path d="M125.85,214.82L129.05,218.02M125.85,218.02L129.05,214.82" stroke="#5a2a9a" stroke-width="1.1"/>
<path d="M134.85,217.69L138.05,220.89M134.85,220.89L138.05,217.69" stroke="#5a2a9a" stroke-width="1.1"/>
<path d="M143.85,220.55L147.05,223.75M143.85,223.75L147.05,220.55" stroke="#5a2a9a" stroke-width="1.1"/>
<path d="M152.85,222.15L156.05,225.35M152.85,225.35L156.05,222.15" stroke="#5a2a9a" stroke-width="1.1"/>
<path d="M161.85,223.93L165.05,227.13M161.85,227.13L165.05,223.93" stroke="#5a2a9a" stroke-width="1.1"/>
<path d="M170.85,225.11L174.05,228.31M170.85,228.31L174.05,225.11" stroke="#5a2a9a" stroke-width="1.1"/>
<path d="M179.85,226.12L183.05,229.32M179.85,229.32L183.05,226.12" stroke="#5a2a9a" stroke-width="1.1"/>
<path d="M188.85,226.71L192.05,229.91M188.85,229.91L192.05,226.71" stroke="#5a2a9a" stroke-width="1.1"/>
<path d="M197.85,227.30L201.05,230.50M197.85,230.50L201.05,227.30" stroke="#5a2a9a" stroke-width="1.1"/>
<path d="M206.85,227.72L210.05,230.92M206.85,230.92L210.05,227.72" stroke="#5a2a9a" stroke-width="1.1"/>
<polyline points="37.45,154.78 46.45,157.31 55.45,159.93 64.45,174.60 73.45,187.33 82.45,193.32 91.45,199.72 100.45,204.45 109.45,209.25 118.45,212.71 127.45,216.42 136.45,219.29 145.45,222.15 154.45,223.75 163.45,225.53 172.45,226.71 181.45,227.72 190.45,228.31 199.45,228.90 208.45,229.32" stroke="#7db33a" stroke-width="1.4" stroke-dasharray="4.5,4.2"/>
<polyline points="37.45,144.58 46.45,145.00 55.45,145.42 64.45,145.85 73.45,147.03 82.45,148.21 91.45,150.82 100.45,153.94 109.45,156.81 118.45,159.42 127.45,160.60 136.45,161.02 145.45,162.46 154.45,164.65 163.45,167.94 172.45,172.07 181.45,175.78 190.45,180.16 199.45,184.04 208.45,187.84" stroke="#5db7ec" stroke-width="1.4"/>
<path d="M35.85,142.98L39.05,146.18M35.85,146.18L39.05,142.98" stroke="#6fc0f0" stroke-width="1.1"/>
<path d="M44.85,143.40L48.05,146.60M44.85,146.60L48.05,143.40" stroke="#6fc0f0" stroke-width="1.1"/>
<path d="M53.85,143.82L57.05,147.02M53.85,147.02L57.05,143.82" stroke="#6fc0f0" stroke-width="1.1"/>
<path d="M62.85,144.25L66.05,147.45M62.85,147.45L66.05,144.25" stroke="#6fc0f0" stroke-width="1.1"/>
<path d="M71.85,145.43L75.05,148.63M71.85,148.63L75.05,145.43" stroke="#6fc0f0" stroke-width="1.1"/>
<path d="M80.85,146.61L84.05,149.81M80.85,149.81L84.05,146.61" stroke="#6fc0f0" stroke-width="1.1"/>
<path d="M89.85,149.22L93.05,152.42M89.85,152.42L93.05,149.22" stroke="#6fc0f0" stroke-width="1.1"/>
<path d="M98.85,152.34L102.05,155.54M98.85,155.54L102.05,152.34" stroke="#6fc0f0" stroke-width="1.1"/>
<path d="M107.85,155.21L111.05,158.41M107.85,158.41L111.05,155.21" stroke="#6fc0f0" stroke-width="1.1"/>
<path d="M116.85,157.82L120.05,161.02M116.85,161.02L120.05,157.82" stroke="#6fc0f0" stroke-width="1.1"/>
<path d="M125.85,159.00L129.05,162.20M125.85,162.20L129.05,159.00" stroke="#6fc0f0" stroke-width="1.1"/>
<path d="M134.85,159.42L138.05,162.62M134.85,162.62L138.05,159.42" stroke="#6fc0f0" stroke-width="1.1"/>
<path d="M143.85,160.86L147.05,164.06M143.85,164.06L147.05,160.86" stroke="#6fc0f0" stroke-width="1.1"/>
<path d="M152.85,163.05L156.05,166.25M152.85,166.25L156.05,163.05" stroke="#6fc0f0" stroke-width="1.1"/>
<path d="M161.85,166.34L165.05,169.54M161.85,169.54L165.05,166.34" stroke="#6fc0f0" stroke-width="1.1"/>
<path d="M170.85,170.47L174.05,173.67M170.85,173.67L174.05,170.47" stroke="#6fc0f0" stroke-width="1.1"/>
<path d="M179.85,174.18L183.05,177.38M179.85,177.38L183.05,174.18" stroke="#6fc0f0" stroke-width="1.1"/>
<path d="M188.85,178.56L192.05,181.76M188.85,181.76L192.05,178.56" stroke="#6fc0f0" stroke-width="1.1"/>
<path d="M197.85,182.44L201.05,185.64M197.85,185.64L201.05,182.44" stroke="#6fc0f0" stroke-width="1.1"/>
<path d="M206.85,186.24L210.05,189.44M206.85,189.44L210.05,186.24" stroke="#6fc0f0" stroke-width="1.1"/>
<polyline points="37.45,147.19 46.45,148.04 55.45,149.30 64.45,151.41 73.45,154.19 82.45,156.89 91.45,159.00 100.45,162.37 109.45,165.91 118.45,169.71 127.45,174.43 136.45,177.97 145.45,182.02 154.45,185.98 163.45,189.18 172.45,192.05 181.45,195.42 190.45,198.71 199.45,201.66 208.45,204.11" stroke="#7b1717" stroke-width="1.4"/>
<path d="M35.85,145.59L39.05,148.79M35.85,148.79L39.05,145.59" stroke="#6a1010" stroke-width="1.1"/>
<path d="M44.85,146.44L48.05,149.64M44.85,149.64L48.05,146.44" stroke="#6a1010" stroke-width="1.1"/>
<path d="M53.85,147.70L57.05,150.90M53.85,150.90L57.05,147.70" stroke="#6a1010" stroke-width="1.1"/>
<path d="M62.85,149.81L66.05,153.01M62.85,153.01L66.05,149.81" stroke="#6a1010" stroke-width="1.1"/>
<path d="M71.85,152.59L75.05,155.79M71.85,155.79L75.05,152.59" stroke="#6a1010" stroke-width="1.1"/>
<path d="M80.85,155.29L84.05,158.49M80.85,158.49L84.05,155.29" stroke="#6a1010" stroke-width="1.1"/>
<path d="M89.85,157.40L93.05,160.60M89.85,160.60L93.05,157.40" stroke="#6a1010" stroke-width="1.1"/>
<path d="M98.85,160.77L102.05,163.97M98.85,163.97L102.05,160.77" stroke="#6a1010" stroke-width="1.1"/>
<path d="M107.85,164.31L111.05,167.51M107.85,167.51L111.05,164.31" stroke="#6a1010" stroke-width="1.1"/>
<path d="M116.85,168.11L120.05,171.31M116.85,171.31L120.05,168.11" stroke="#6a1010" stroke-width="1.1"/>
<path d="M125.85,172.83L129.05,176.03M125.85,176.03L129.05,172.83" stroke="#6a1010" stroke-width="1.1"/>
<path d="M134.85,176.37L138.05,179.57M134.85,179.57L138.05,176.37" stroke="#6a1010" stroke-width="1.1"/>
<path d="M143.85,180.42L147.05,183.62M143.85,183.62L147.05,180.42" stroke="#6a1010" stroke-width="1.1"/>
<path d="M152.85,184.38L156.05,187.58M152.85,187.58L156.05,184.38" stroke="#6a1010" stroke-width="1.1"/>
<path d="M161.85,187.58L165.05,190.78M161.85,190.78L165.05,187.58" stroke="#6a1010" stroke-width="1.1"/>
<path d="M170.85,190.45L174.05,193.65M170.85,193.65L174.05,190.45" stroke="#6a1010" stroke-width="1.1"/>
<path d="M179.85,193.82L183.05,197.02M179.85,197.02L183.05,193.82" stroke="#6a1010" stroke-width="1.1"/>
<path d="M188.85,197.11L192.05,200.31M188.85,200.31L192.05,197.11" stroke="#6a1010" stroke-width="1.1"/>
<path d="M197.85,200.06L201.05,203.26M197.85,203.26L201.05,200.06" stroke="#6a1010" stroke-width="1.1"/>
<path d="M206.85,202.51L210.05,205.71M206.85,205.71L210.05,202.51" stroke="#6a1010" stroke-width="1.1"/>
<polyline points="37.45,144.24 46.45,144.66 55.45,145.09 64.45,145.51 73.45,146.69 82.45,147.87 91.45,150.48 100.45,153.60 109.45,156.47 118.45,159.08 127.45,160.26 136.45,160.69 145.45,162.12 154.45,164.31 163.45,167.60 172.45,171.73 181.45,175.44 190.45,179.83 199.45,183.70 208.45,187.50" stroke="#3566c4" stroke-width="1.4"/>
<path d="M35.85,142.64L39.05,145.84M35.85,145.84L39.05,142.64" stroke="#2a5fcf" stroke-width="1.1"/>
<path d="M44.85,143.06L48.05,146.26M44.85,146.26L48.05,143.06" stroke="#2a5fcf" stroke-width="1.1"/>
<path d="M53.85,143.49L57.05,146.69M53.85,146.69L57.05,143.49" stroke="#2a5fcf" stroke-width="1.1"/>
<path d="M62.85,143.91L66.05,147.11M62.85,147.11L66.05,143.91" stroke="#2a5fcf" stroke-width="1.1"/>
<path d="M71.85,145.09L75.05,148.29M71.85,148.29L75.05,145.09" stroke="#2a5fcf" stroke-width="1.1"/>
<path d="M80.85,146.27L84.05,149.47M80.85,149.47L84.05,146.27" stroke="#2a5fcf" stroke-width="1.1"/>
<path d="M89.85,148.88L93.05,152.08M89.85,152.08L93.05,148.88" stroke="#2a5fcf" stroke-width="1.1"/>
<path d="M98.85,152.00L102.05,155.20M98.85,155.20L102.05,152.00" stroke="#2a5fcf" stroke-width="1.1"/>
<path d="M107.85,154.87L111.05,158.07M107.85,158.07L111.05,154.87" stroke="#2a5fcf" stroke-width="1.1"/>
<path d="M116.85,157.48L120.05,160.68M116.85,160.68L120.05,157.48" stroke="#2a5fcf" stroke-width="1.1"/>
<path d="M125.85,158.66L129.05,161.86M125.85,161.86L129.05,158.66" stroke="#2a5fcf" stroke-width="1.1"/>
<path d="M134.85,159.09L138.05,162.29M134.85,162.29L138.05,159.09" stroke="#2a5fcf" stroke-width="1.1"/>
<path d="M143.85,160.52L147.05,163.72M143.85,163.72L147.05,160.52" stroke="#2a5fcf" stroke-width="1.1"/>
<path d="M152.85,162.71L156.05,165.91M152.85,165.91L156.05,162.71" stroke="#2a5fcf" stroke-width="1.1"/>
<path d="M161.85,166.00L165.05,169.20M161.85,169.20L165.05,166.00" stroke="#2a5fcf" stroke-width="1.1"/>
<path d="M170.85,170.13L174.05,173.33M170.85,173.33L174.05,170.13" stroke="#2a5fcf" stroke-width="1.1"/>
<path d="M179.85,173.84L183.05,177.04M179.85,177.04L183.05,173.84" stroke="#2a5fcf" stroke-width="1.1"/>
<path d="M188.85,178.23L192.05,181.43M188.85,181.43L192.05,178.23" stroke="#2a5fcf" stroke-width="1.1"/>
<path d="M197.85,182.10L201.05,185.30M197.85,185.30L201.05,182.10" stroke="#2a5fcf" stroke-width="1.1"/>
<path d="M206.85,185.90L210.05,189.10M206.85,189.10L210.05,185.90" stroke="#2a5fcf" stroke-width="1.1"/>
<polyline points="37.45,144.50 46.45,144.92 55.45,145.34 64.45,145.76 73.45,146.94 82.45,148.12 91.45,150.74 100.45,153.86 109.45,156.72 118.45,159.34 127.45,160.52 136.45,160.94 145.45,162.37 154.45,164.56 163.45,167.85 172.45,171.98 181.45,175.69 190.45,180.08 199.45,183.96 208.45,187.75" stroke="#5a4c42" stroke-width="1.4" stroke-dasharray="4.5,4.2"/>
<polyline points="55.45,165.49 64.45,174.60 73.45,187.33 82.45,193.32 91.45,199.72 100.45,204.45 109.45,209.25 118.45,212.71 127.45,216.42 136.45,219.29 145.45,222.15 154.45,223.75 163.45,225.53 172.45,226.71 181.45,227.72 190.45,228.31 199.45,228.90 208.45,229.32" stroke="#3d3a40" stroke-width="1.25"/>
<path d="M62.85,173.00L66.05,176.20M62.85,176.20L66.05,173.00" stroke="#5a2a9a" stroke-width="1.1"/>
<path d="M71.85,185.73L75.05,188.93M71.85,188.93L75.05,185.73" stroke="#4a4a4a" stroke-width="1.1"/>
<path d="M80.85,191.72L84.05,194.92M80.85,194.92L84.05,191.72" stroke="#5a2a9a" stroke-width="1.1"/>
<path d="M89.85,198.12L93.05,201.32M89.85,201.32L93.05,198.12" stroke="#4a4a4a" stroke-width="1.1"/>
<path d="M98.85,202.85L102.05,206.05M98.85,206.05L102.05,202.85" stroke="#5a2a9a" stroke-width="1.1"/>
<path d="M107.85,207.65L111.05,210.85M107.85,210.85L111.05,207.65" stroke="#4a4a4a" stroke-width="1.1"/>
<path d="M116.85,211.11L120.05,214.31M116.85,214.31L120.05,211.11" stroke="#5a2a9a" stroke-width="1.1"/>
<path d="M125.85,214.82L129.05,218.02M125.85,218.02L129.05,214.82" stroke="#4a4a4a" stroke-width="1.1"/>
<path d="M134.85,217.69L138.05,220.89M134.85,220.89L138.05,217.69" stroke="#5a2a9a" stroke-width="1.1"/>
<path d="M143.85,220.55L147.05,223.75M143.85,223.75L147.05,220.55" stroke="#4a4a4a" stroke-width="1.1"/>
<path d="M152.85,222.15L156.05,225.35M152.85,225.35L156.05,222.15" stroke="#5a2a9a" stroke-width="1.1"/>
<path d="M161.85,223.93L165.05,227.13M161.85,227.13L165.05,223.93" stroke="#4a4a4a" stroke-width="1.1"/>
<path d="M170.85,225.11L174.05,228.31M170.85,228.31L174.05,225.11" stroke="#5a2a9a" stroke-width="1.1"/>
<path d="M179.85,226.12L183.05,229.32M179.85,229.32L183.05,226.12" stroke="#4a4a4a" stroke-width="1.1"/>
<path d="M188.85,226.71L192.05,229.91M188.85,229.91L192.05,226.71" stroke="#5a2a9a" stroke-width="1.1"/>
<path d="M197.85,227.30L201.05,230.50M197.85,230.50L201.05,227.30" stroke="#4a4a4a" stroke-width="1.1"/>
<path d="M206.85,227.72L210.05,230.92M206.85,230.92L210.05,227.72" stroke="#5a2a9a" stroke-width="1.1"/>
</g>
<rect x="28.45" y="143.4" width="180.0" height="87.1" fill="none" stroke="#a2a2a2" stroke-width="1"/>
<path d="M28.45,230.5v-1.8M28.45,143.4v1.8M73.45,230.5v-1.8M73.45,143.4v1.8M118.45,230.5v-1.8M118.45,143.4v1.8M163.45,230.5v-1.8M163.45,143.4v1.8M208.45,230.5v-1.8M208.45,143.4v1.8M28.45,227.72h1.8M208.45,227.72h-1.8M28.45,210.85h1.8M208.45,210.85h-1.8M28.45,193.99h1.8M208.45,193.99h-1.8M28.45,177.13h1.8M208.45,177.13h-1.8M28.45,160.26h1.8M208.45,160.26h-1.8M28.45,143.40h1.8M208.45,143.40h-1.8" stroke="#555" stroke-width="0.8" fill="none"/>
<text x="28.45" y="241.10" font-size="7.6" fill="#262626" stroke="#262626" stroke-width="0.2" text-anchor="middle">0</text>
<text x="73.45" y="241.10" font-size="7.6" fill="#262626" stroke="#262626" stroke-width="0.2" text-anchor="middle">0.1</text>
<text x="118.45" y="241.10" font-size="7.6" fill="#262626" stroke="#262626" stroke-width="0.2" text-anchor="middle">0.2</text>
<text x="163.45" y="241.10" font-size="7.6" fill="#262626" stroke="#262626" stroke-width="0.2" text-anchor="middle">0.3</text>
<text x="208.45" y="241.10" font-size="7.6" fill="#262626" stroke="#262626" stroke-width="0.2" text-anchor="middle">0.4</text>
<text x="25.85" y="230.62" font-size="7.6" fill="#262626" stroke="#262626" stroke-width="0.2" text-anchor="end">0</text>
<text x="25.85" y="213.75" font-size="7.6" fill="#262626" stroke="#262626" stroke-width="0.2" text-anchor="end">0.2</text>
<text x="25.85" y="196.89" font-size="7.6" fill="#262626" stroke="#262626" stroke-width="0.2" text-anchor="end">0.4</text>
<text x="25.85" y="180.03" font-size="7.6" fill="#262626" stroke="#262626" stroke-width="0.2" text-anchor="end">0.6</text>
<text x="25.85" y="163.16" font-size="7.6" fill="#262626" stroke="#262626" stroke-width="0.2" text-anchor="end">0.8</text>
<text x="25.85" y="146.30" font-size="7.6" fill="#262626" stroke="#262626" stroke-width="0.2" text-anchor="end">1</text>
<text x="118.75" y="255.10" font-size="8.6" fill="#262626" stroke="#262626" stroke-width="0.2" text-anchor="middle">(<tspan font-style="italic" dx="0.3">σ</tspan><tspan font-size="6.1" dy="-5.2" dx="0.45">2</tspan><tspan dy="5.2" dx="0.2">)</tspan></text>
<text transform="translate(9.70,187.95) rotate(-90)" font-size="8.6" fill="#262626" stroke="#262626" stroke-width="0.2" text-anchor="middle">CORR [-]</text>
<rect x="219" y="143.4" width="51.80000000000001" height="87.19999999999999" fill="#fff" stroke="#a2a2a2" stroke-width="1"/>
<line x1="221.20" y1="148.20" x2="241.00" y2="148.20" stroke="#4a7fd6" stroke-width="1.2"/>
<path d="M229.20,146.70L232.20,149.70M229.20,149.70L232.20,146.70" stroke="#1f55c9" stroke-width="1.1"/>
<text transform="translate(242.50,150.70)" font-size="7.3" fill="#1a1a1a" stroke="#1a1a1a" stroke-width="0.15">ABC</text>
<line x1="221.20" y1="158.10" x2="241.00" y2="158.10" stroke="#a85a30" stroke-width="1.2" stroke-dasharray="4,3.9"/>
<text transform="translate(242.50,160.60)" font-size="7.3" fill="#1a1a1a" stroke="#1a1a1a" stroke-width="0.15">ABC<tspan font-size="5.4" dy="3.0" dx="0.2">2</tspan></text>
<line x1="221.20" y1="168.20" x2="241.00" y2="168.20" stroke="#e3b21e" stroke-width="1.2"/>
<path d="M229.20,166.70L232.20,169.70M229.20,169.70L232.20,166.70" stroke="#e0a800" stroke-width="1.1"/>
<text transform="translate(242.50,170.70)" font-size="7.3" fill="#1a1a1a" stroke="#1a1a1a" stroke-width="0.15">DPSO</text>
<line x1="221.20" y1="176.90" x2="241.00" y2="176.90" stroke="#6b35a6" stroke-width="1.2"/>
<path d="M229.20,175.40L232.20,178.40M229.20,178.40L232.20,175.40" stroke="#5a2a9a" stroke-width="1.1"/>
<text transform="translate(242.50,179.40)" font-size="7.3" fill="#1a1a1a" stroke="#1a1a1a" stroke-width="0.15">GA</text>
<line x1="221.20" y1="186.90" x2="241.00" y2="186.90" stroke="#7db33a" stroke-width="1.2" stroke-dasharray="4,3.9"/>
<text transform="translate(242.50,189.40)" font-size="7.3" fill="#1a1a1a" stroke="#1a1a1a" stroke-width="0.15">GA<tspan font-size="5.4" dy="3.0" dx="0.2">2</tspan></text>
<line x1="221.20" y1="196.90" x2="241.00" y2="196.90" stroke="#5db7ec" stroke-width="1.2"/>
<path d="M229.20,195.40L232.20,198.40M229.20,198.40L232.20,195.40" stroke="#6fc0f0" stroke-width="1.1"/>
<text transform="translate(242.50,199.40)" font-size="7.3" fill="#1a1a1a" stroke="#1a1a1a" stroke-width="0.15">K-means</text>
<line x1="221.20" y1="205.70" x2="241.00" y2="205.70" stroke="#7b1717" stroke-width="1.2"/>
<path d="M229.20,204.20L232.20,207.20M229.20,207.20L232.20,204.20" stroke="#6a1010" stroke-width="1.1"/>
<text transform="translate(242.50,208.20)" font-size="7.3" fill="#1a1a1a" stroke="#1a1a1a" stroke-width="0.15">Otsu</text>
<line x1="221.20" y1="214.10" x2="241.00" y2="214.10" stroke="#3566c4" stroke-width="1.2"/>
<path d="M229.20,212.60L232.20,215.60M229.20,215.60L232.20,212.60" stroke="#2a5fcf" stroke-width="1.1"/>
<text transform="translate(242.50,216.60)" font-size="7.3" fill="#1a1a1a" stroke="#1a1a1a" stroke-width="0.15">PSO</text>
<line x1="221.20" y1="223.40" x2="241.00" y2="223.40" stroke="#5a4c42" stroke-width="1.2" stroke-dasharray="4,3.9"/>
<text transform="translate(242.50,225.90)" font-size="7.3" fill="#1a1a1a" stroke="#1a1a1a" stroke-width="0.15">PSO<tspan font-size="5.4" dy="3.0" dx="0.2">2</tspan></text>
<clipPath id="c3"><rect x="300.05" y="140.4" width="183.2" height="93.0"/></clipPath>
<g clip-path="url(#c3)" fill="none" stroke-linejoin="round">
<polyline points="309.06,167.00 318.07,167.54 327.08,168.63 336.09,170.04 345.10,172.44 354.11,175.70 363.12,179.18 372.13,183.09 381.14,187.55 390.15,192.01 399.16,196.36 408.17,200.71 417.18,204.95 426.19,209.19 435.20,213.22 444.21,217.24 453.22,220.83 462.23,224.31 471.24,227.57 480.25,230.84" stroke="#4a7fd6" stroke-width="1.4"/>
<path d="M307.46,165.40L310.66,168.60M307.46,168.60L310.66,165.40" stroke="#1f55c9" stroke-width="1.1"/>
<path d="M316.47,165.94L319.67,169.14M316.47,169.14L319.67,165.94" stroke="#1f55c9" stroke-width="1.1"/>
<path d="M325.48,167.03L328.68,170.23M325.48,170.23L328.68,167.03" stroke="#1f55c9" stroke-width="1.1"/>
<path d="M334.49,168.44L337.69,171.64M334.49,171.64L337.69,168.44" stroke="#1f55c9" stroke-width="1.1"/>
<path d="M343.50,170.84L346.70,174.04M343.50,174.04L346.70,170.84" stroke="#1f55c9" stroke-width="1.1"/>
<path d="M352.51,174.10L355.71,177.30M352.51,177.30L355.71,174.10" stroke="#1f55c9" stroke-width="1.1"/>
<path d="M361.52,177.58L364.72,180.78M361.52,180.78L364.72,177.58" stroke="#1f55c9" stroke-width="1.1"/>
<path d="M370.53,181.49L373.73,184.69M370.53,184.69L373.73,181.49" stroke="#1f55c9" stroke-width="1.1"/>
<path d="M379.54,185.95L382.74,189.15M379.54,189.15L382.74,185.95" stroke="#1f55c9" stroke-width="1.1"/>
<path d="M388.55,190.41L391.75,193.61M388.55,193.61L391.75,190.41" stroke="#1f55c9" stroke-width="1.1"/>
<path d="M397.56,194.76L400.76,197.96M397.56,197.96L400.76,194.76" stroke="#1f55c9" stroke-width="1.1"/>
<path d="M406.57,199.11L409.77,202.31M406.57,202.31L409.77,199.11" stroke="#1f55c9" stroke-width="1.1"/>
<path d="M415.58,203.35L418.78,206.55M415.58,206.55L418.78,203.35" stroke="#1f55c9" stroke-width="1.1"/>
<path d="M424.59,207.59L427.79,210.79M424.59,210.79L427.79,207.59" stroke="#1f55c9" stroke-width="1.1"/>
<path d="M433.60,211.62L436.80,214.82M433.60,214.82L436.80,211.62" stroke="#1f55c9" stroke-width="1.1"/>
<path d="M442.61,215.64L445.81,218.84M442.61,218.84L445.81,215.64" stroke="#1f55c9" stroke-width="1.1"/>
<path d="M451.62,219.23L454.82,222.43M451.62,222.43L454.82,219.23" stroke="#1f55c9" stroke-width="1.1"/>
<path d="M460.63,222.71L463.83,225.91M460.63,225.91L463.83,222.71" stroke="#1f55c9" stroke-width="1.1"/>
<path d="M469.64,225.97L472.84,229.17M469.64,229.17L472.84,225.97" stroke="#1f55c9" stroke-width="1.1"/>
<path d="M478.65,229.24L481.85,232.44M478.65,232.44L481.85,229.24" stroke="#1f55c9" stroke-width="1.1"/>
<polyline points="309.06,166.02 318.07,166.78 327.08,167.87 336.09,169.06 345.10,171.13 354.11,174.39 363.12,176.03 372.13,177.66 381.14,179.29 390.15,180.92 399.16,182.01 408.17,183.64 417.18,186.79 426.19,192.12 435.20,196.69 444.21,200.49 453.22,204.30 462.23,208.11 471.24,210.83 480.25,213.54" stroke="#a85a30" stroke-width="1.4" stroke-dasharray="4.5,4.2"/>
<polyline points="309.06,166.24 318.07,166.78 327.08,167.87 336.09,169.28 345.10,171.68 354.11,174.94 363.12,178.42 372.13,182.33 381.14,186.79 390.15,191.25 399.16,195.60 408.17,199.95 417.18,204.19 426.19,208.43 435.20,212.46 444.21,216.48 453.22,220.07 462.23,223.55 471.24,226.81 480.25,230.07" stroke="#a3b050" stroke-width="1.4"/>
<path d="M307.46,164.64L310.66,167.84M307.46,167.84L310.66,164.64" stroke="#a3b050" stroke-width="1.1"/>
<path d="M316.47,165.18L319.67,168.38M316.47,168.38L319.67,165.18" stroke="#a3b050" stroke-width="1.1"/>
<path d="M325.48,166.27L328.68,169.47M325.48,169.47L328.68,166.27" stroke="#a3b050" stroke-width="1.1"/>
<path d="M334.49,167.68L337.69,170.88M334.49,170.88L337.69,167.68" stroke="#a3b050" stroke-width="1.1"/>
<path d="M343.50,170.08L346.70,173.28M343.50,173.28L346.70,170.08" stroke="#a3b050" stroke-width="1.1"/>
<path d="M352.51,173.34L355.71,176.54M352.51,176.54L355.71,173.34" stroke="#a3b050" stroke-width="1.1"/>
<path d="M361.52,176.82L364.72,180.02M361.52,180.02L364.72,176.82" stroke="#a3b050" stroke-width="1.1"/>
<path d="M370.53,180.73L373.73,183.93M370.53,183.93L373.73,180.73" stroke="#a3b050" stroke-width="1.1"/>
<path d="M379.54,185.19L382.74,188.39M379.54,188.39L382.74,185.19" stroke="#a3b050" stroke-width="1.1"/>
<path d="M388.55,189.65L391.75,192.85M388.55,192.85L391.75,189.65" stroke="#a3b050" stroke-width="1.1"/>
<path d="M397.56,194.00L400.76,197.20M397.56,197.20L400.76,194.00" stroke="#a3b050" stroke-width="1.1"/>
<path d="M406.57,198.35L409.77,201.55M406.57,201.55L409.77,198.35" stroke="#a3b050" stroke-width="1.1"/>
<path d="M415.58,202.59L418.78,205.79M415.58,205.79L418.78,202.59" stroke="#a3b050" stroke-width="1.1"/>
<path d="M424.59,206.83L427.79,210.03M424.59,210.03L427.79,206.83" stroke="#a3b050" stroke-width="1.1"/>
<path d="M433.60,210.86L436.80,214.06M433.60,214.06L436.80,210.86" stroke="#a3b050" stroke-width="1.1"/>
<path d="M442.61,214.88L445.81,218.08M442.61,218.08L445.81,214.88" stroke="#a3b050" stroke-width="1.1"/>
<path d="M451.62,218.47L454.82,221.67M451.62,221.67L454.82,218.47" stroke="#a3b050" stroke-width="1.1"/>
<path d="M460.63,221.95L463.83,225.15M460.63,225.15L463.83,221.95" stroke="#a3b050" stroke-width="1.1"/>
<path d="M469.64,225.21L472.84,228.41M469.64,228.41L472.84,225.21" stroke="#a3b050" stroke-width="1.1"/>
<path d="M478.65,228.47L481.85,231.67M478.65,231.67L481.85,228.47" stroke="#a3b050" stroke-width="1.1"/>
<polyline points="309.06,167.98 318.07,167.98 327.08,167.00 336.09,172.33 345.10,179.29 354.11,181.03 363.12,183.20 372.13,184.83 381.14,186.68 390.15,188.64 399.16,189.62 408.17,189.62 417.18,189.62 426.19,190.16 435.20,190.71 444.21,190.92 453.22,190.92 462.23,190.49 471.24,189.94 480.25,189.08" stroke="#6b35a6" stroke-width="1.4"/>
<path d="M307.46,166.38L310.66,169.58M307.46,169.58L310.66,166.38" stroke="#5a2a9a" stroke-width="1.1"/>
<path d="M316.47,166.38L319.67,169.58M316.47,169.58L319.67,166.38" stroke="#5a2a9a" stroke-width="1.1"/>
<path d="M325.48,165.40L328.68,168.60M325.48,168.60L328.68,165.40" stroke="#5a2a9a" stroke-width="1.1"/>
<path d="M334.49,170.73L337.69,173.93M334.49,173.93L337.69,170.73" stroke="#5a2a9a" stroke-width="1.1"/>
<path d="M343.50,177.69L346.70,180.89M343.50,180.89L346.70,177.69" stroke="#5a2a9a" stroke-width="1.1"/>
<path d="M352.51,179.43L355.71,182.63M352.51,182.63L355.71,179.43" stroke="#5a2a9a" stroke-width="1.1"/>
<path d="M361.52,181.60L364.72,184.80M361.52,184.80L364.72,181.60" stroke="#5a2a9a" stroke-width="1.1"/>
<path d="M370.53,183.23L373.73,186.43M370.53,186.43L373.73,183.23" stroke="#5a2a9a" stroke-width="1.1"/>
<path d="M379.54,185.08L382.74,188.28M379.54,188.28L382.74,185.08" stroke="#5a2a9a" stroke-width="1.1"/>
<path d="M388.55,187.04L391.75,190.24M388.55,190.24L391.75,187.04" stroke="#5a2a9a" stroke-width="1.1"/>
<path d="M397.56,188.02L400.76,191.22M397.56,191.22L400.76,188.02" stroke="#5a2a9a" stroke-width="1.1"/>
<path d="M406.57,188.02L409.77,191.22M406.57,191.22L409.77,188.02" stroke="#5a2a9a" stroke-width="1.1"/>
<path d="M415.58,188.02L418.78,191.22M415.58,191.22L418.78,188.02" stroke="#5a2a9a" stroke-width="1.1"/>
<path d="M424.59,188.56L427.79,191.76M424.59,191.76L427.79,188.56" stroke="#5a2a9a" stroke-width="1.1"/>
<path d="M433.60,189.11L436.80,192.31M433.60,192.31L436.80,189.11" stroke="#5a2a9a" stroke-width="1.1"/>
<path d="M442.61,189.32L445.81,192.52M442.61,192.52L445.81,189.32" stroke="#5a2a9a" stroke-width="1.1"/>
<path d="M451.62,189.32L454.82,192.52M451.62,192.52L454.82,189.32" stroke="#5a2a9a" stroke-width="1.1"/>
<path d="M460.63,188.89L463.83,192.09M460.63,192.09L463.83,188.89" stroke="#5a2a9a" stroke-width="1.1"/>
<path d="M469.64,188.34L472.84,191.54M469.64,191.54L472.84,188.34" stroke="#5a2a9a" stroke-width="1.1"/>
<path d="M478.65,187.48L481.85,190.68M478.65,190.68L481.85,187.48" stroke="#5a2a9a" stroke-width="1.1"/>
<polyline points="309.06,167.33 318.07,167.87 327.08,167.33 336.09,171.13 345.10,176.03 354.11,178.20 363.12,180.38 372.13,182.55 381.14,184.72 390.15,186.36 399.16,187.44 408.17,187.44 417.18,187.12 426.19,186.90 435.20,186.68 444.21,186.68 453.22,186.47 462.23,186.25 471.24,185.81 480.25,185.38" stroke="#7db33a" stroke-width="1.4" stroke-dasharray="4.5,4.2"/>
<polyline points="309.06,163.52 318.07,163.19 327.08,162.97 336.09,161.89 345.10,163.52 354.11,166.24 363.12,167.65 372.13,169.17 381.14,172.44 390.15,176.03 399.16,179.29 408.17,181.46 417.18,185.27 426.19,189.94 435.20,194.51 444.21,198.21 453.22,201.36 462.23,205.82 471.24,210.17 480.25,214.09" stroke="#3566c4" stroke-width="1.4"/>
<path d="M307.46,161.92L310.66,165.12M307.46,165.12L310.66,161.92" stroke="#2a5fcf" stroke-width="1.1"/>
<path d="M316.47,161.59L319.67,164.79M316.47,164.79L319.67,161.59" stroke="#2a5fcf" stroke-width="1.1"/>
<path d="M325.48,161.38L328.68,164.57M325.48,164.57L328.68,161.38" stroke="#2a5fcf" stroke-width="1.1"/>
<path d="M334.49,160.29L337.69,163.49M334.49,163.49L337.69,160.29" stroke="#2a5fcf" stroke-width="1.1"/>
<path d="M343.50,161.92L346.70,165.12M343.50,165.12L346.70,161.92" stroke="#2a5fcf" stroke-width="1.1"/>
<path d="M352.51,164.64L355.71,167.84M352.51,167.84L355.71,164.64" stroke="#2a5fcf" stroke-width="1.1"/>
<path d="M361.52,166.05L364.72,169.25M361.52,169.25L364.72,166.05" stroke="#2a5fcf" stroke-width="1.1"/>
<path d="M370.53,167.57L373.73,170.77M370.53,170.77L373.73,167.57" stroke="#2a5fcf" stroke-width="1.1"/>
<path d="M379.54,170.84L382.74,174.04M379.54,174.04L382.74,170.84" stroke="#2a5fcf" stroke-width="1.1"/>
<path d="M388.55,174.43L391.75,177.62M388.55,177.62L391.75,174.43" stroke="#2a5fcf" stroke-width="1.1"/>
<path d="M397.56,177.69L400.76,180.89M397.56,180.89L400.76,177.69" stroke="#2a5fcf" stroke-width="1.1"/>
<path d="M406.57,179.86L409.77,183.06M406.57,183.06L409.77,179.86" stroke="#2a5fcf" stroke-width="1.1"/>
<path d="M415.58,183.67L418.78,186.87M415.58,186.87L418.78,183.67" stroke="#2a5fcf" stroke-width="1.1"/>
<path d="M424.59,188.34L427.79,191.54M424.59,191.54L427.79,188.34" stroke="#2a5fcf" stroke-width="1.1"/>
<path d="M433.60,192.91L436.80,196.11M433.60,196.11L436.80,192.91" stroke="#2a5fcf" stroke-width="1.1"/>
<path d="M442.61,196.61L445.81,199.81M442.61,199.81L445.81,196.61" stroke="#2a5fcf" stroke-width="1.1"/>
<path d="M451.62,199.76L454.82,202.96M451.62,202.96L454.82,199.76" stroke="#2a5fcf" stroke-width="1.1"/>
<path d="M460.63,204.22L463.83,207.42M460.63,207.42L463.83,204.22" stroke="#2a5fcf" stroke-width="1.1"/>
<path d="M469.64,208.57L472.84,211.77M469.64,211.77L472.84,208.57" stroke="#2a5fcf" stroke-width="1.1"/>
<path d="M478.65,212.49L481.85,215.69M478.65,215.69L481.85,212.49" stroke="#2a5fcf" stroke-width="1.1"/>
<polyline points="309.06,162.97 318.07,162.76 327.08,161.89 336.09,164.06 345.10,170.59 354.11,173.85 363.12,174.94 372.13,176.03 381.14,176.79 390.15,178.20 399.16,180.38 408.17,182.55 417.18,184.18 426.19,185.81 435.20,187.99 444.21,189.62 453.22,191.79 462.23,193.43 471.24,195.06 480.25,196.69" stroke="#5db7ec" stroke-width="1.4"/>
<path d="M307.46,161.38L310.66,164.57M307.46,164.57L310.66,161.38" stroke="#6fc0f0" stroke-width="1.1"/>
<path d="M316.47,161.16L319.67,164.36M316.47,164.36L319.67,161.16" stroke="#6fc0f0" stroke-width="1.1"/>
<path d="M325.48,160.29L328.68,163.49M325.48,163.49L328.68,160.29" stroke="#6fc0f0" stroke-width="1.1"/>
<path d="M334.49,162.46L337.69,165.66M334.49,165.66L337.69,162.46" stroke="#6fc0f0" stroke-width="1.1"/>
<path d="M343.50,168.99L346.70,172.19M343.50,172.19L346.70,168.99" stroke="#6fc0f0" stroke-width="1.1"/>
<path d="M352.51,172.25L355.71,175.45M352.51,175.45L355.71,172.25" stroke="#6fc0f0" stroke-width="1.1"/>
<path d="M361.52,173.34L364.72,176.54M361.52,176.54L364.72,173.34" stroke="#6fc0f0" stroke-width="1.1"/>
<path d="M370.53,174.43L373.73,177.62M370.53,177.62L373.73,174.43" stroke="#6fc0f0" stroke-width="1.1"/>
<path d="M379.54,175.19L382.74,178.39M379.54,178.39L382.74,175.19" stroke="#6fc0f0" stroke-width="1.1"/>
<path d="M388.55,176.60L391.75,179.80M388.55,179.80L391.75,176.60" stroke="#6fc0f0" stroke-width="1.1"/>
<path d="M397.56,178.78L400.76,181.97M397.56,181.97L400.76,178.78" stroke="#6fc0f0" stroke-width="1.1"/>
<path d="M406.57,180.95L409.77,184.15M406.57,184.15L409.77,180.95" stroke="#6fc0f0" stroke-width="1.1"/>
<path d="M415.58,182.58L418.78,185.78M415.58,185.78L418.78,182.58" stroke="#6fc0f0" stroke-width="1.1"/>
<path d="M424.59,184.21L427.79,187.41M424.59,187.41L427.79,184.21" stroke="#6fc0f0" stroke-width="1.1"/>
<path d="M433.60,186.39L436.80,189.59M433.60,189.59L436.80,186.39" stroke="#6fc0f0" stroke-width="1.1"/>
<path d="M442.61,188.02L445.81,191.22M442.61,191.22L445.81,188.02" stroke="#6fc0f0" stroke-width="1.1"/>
<path d="M451.62,190.19L454.82,193.39M451.62,193.39L454.82,190.19" stroke="#6fc0f0" stroke-width="1.1"/>
<path d="M460.63,191.83L463.83,195.03M460.63,195.03L463.83,191.83" stroke="#6fc0f0" stroke-width="1.1"/>
<path d="M469.64,193.46L472.84,196.66M469.64,196.66L472.84,193.46" stroke="#6fc0f0" stroke-width="1.1"/>
<path d="M478.65,195.09L481.85,198.29M478.65,198.29L481.85,195.09" stroke="#6fc0f0" stroke-width="1.1"/>
<polyline points="309.06,156.56 318.07,156.99 327.08,158.41 336.09,161.34 345.10,164.28 354.11,167.00 363.12,169.06 372.13,171.57 381.14,173.85 390.15,176.79 399.16,179.94 408.17,182.01 417.18,184.62 426.19,187.23 435.20,189.84 444.21,191.58 453.22,193.32 462.23,195.93 471.24,197.78 480.25,199.41" stroke="#7b1717" stroke-width="1.4"/>
<path d="M307.46,154.96L310.66,158.16M307.46,158.16L310.66,154.96" stroke="#6a1010" stroke-width="1.1"/>
<path d="M316.47,155.39L319.67,158.59M316.47,158.59L319.67,155.39" stroke="#6a1010" stroke-width="1.1"/>
<path d="M325.48,156.81L328.68,160.01M325.48,160.01L328.68,156.81" stroke="#6a1010" stroke-width="1.1"/>
<path d="M334.49,159.74L337.69,162.94M334.49,162.94L337.69,159.74" stroke="#6a1010" stroke-width="1.1"/>
<path d="M343.50,162.68L346.70,165.88M343.50,165.88L346.70,162.68" stroke="#6a1010" stroke-width="1.1"/>
<path d="M352.51,165.40L355.71,168.60M352.51,168.60L355.71,165.40" stroke="#6a1010" stroke-width="1.1"/>
<path d="M361.52,167.47L364.72,170.66M361.52,170.66L364.72,167.47" stroke="#6a1010" stroke-width="1.1"/>
<path d="M370.53,169.97L373.73,173.17M370.53,173.17L373.73,169.97" stroke="#6a1010" stroke-width="1.1"/>
<path d="M379.54,172.25L382.74,175.45M379.54,175.45L382.74,172.25" stroke="#6a1010" stroke-width="1.1"/>
<path d="M388.55,175.19L391.75,178.39M388.55,178.39L391.75,175.19" stroke="#6a1010" stroke-width="1.1"/>
<path d="M397.56,178.34L400.76,181.54M397.56,181.54L400.76,178.34" stroke="#6a1010" stroke-width="1.1"/>
<path d="M406.57,180.41L409.77,183.61M406.57,183.61L409.77,180.41" stroke="#6a1010" stroke-width="1.1"/>
<path d="M415.58,183.02L418.78,186.22M415.58,186.22L418.78,183.02" stroke="#6a1010" stroke-width="1.1"/>
<path d="M424.59,185.63L427.79,188.83M424.59,188.83L427.79,185.63" stroke="#6a1010" stroke-width="1.1"/>
<path d="M433.60,188.24L436.80,191.44M433.60,191.44L436.80,188.24" stroke="#6a1010" stroke-width="1.1"/>
<path d="M442.61,189.98L445.81,193.18M442.61,193.18L445.81,189.98" stroke="#6a1010" stroke-width="1.1"/>
<path d="M451.62,191.72L454.82,194.92M451.62,194.92L454.82,191.72" stroke="#6a1010" stroke-width="1.1"/>
<path d="M460.63,194.33L463.83,197.53M460.63,197.53L463.83,194.33" stroke="#6a1010" stroke-width="1.1"/>
<path d="M469.64,196.18L472.84,199.38M469.64,199.38L472.84,196.18" stroke="#6a1010" stroke-width="1.1"/>
<path d="M478.65,197.81L481.85,201.01M478.65,201.01L481.85,197.81" stroke="#6a1010" stroke-width="1.1"/>
<polyline points="309.06,166.24 318.07,166.78 327.08,167.87 336.09,169.28 345.10,171.68 354.11,174.94 363.12,178.42 372.13,182.33 381.14,186.79 390.15,191.25 399.16,195.60 408.17,199.95 417.18,204.19 426.19,208.43 435.20,212.46 444.21,216.48 453.22,220.07 462.23,223.55 471.24,226.81 480.25,230.07" stroke="#8a5535" stroke-width="1.4" stroke-dasharray="4.5,4.2"/>
</g>
<rect x="300.05" y="143.4" width="180.2" height="87.0" fill="none" stroke="#a2a2a2" stroke-width="1"/>
<path d="M300.05,230.4v-1.8M300.05,143.4v1.8M345.10,230.4v-1.8M345.10,143.4v1.8M390.15,230.4v-1.8M390.15,143.4v1.8M435.20,230.4v-1.8M435.20,143.4v1.8M480.25,230.4v-1.8M480.25,143.4v1.8M300.05,229.01h1.8M480.25,229.01h-1.8M300.05,207.61h1.8M480.25,207.61h-1.8M300.05,186.20h1.8M480.25,186.20h-1.8M300.05,164.80h1.8M480.25,164.80h-1.8M300.05,143.40h1.8M480.25,143.40h-1.8" stroke="#555" stroke-width="0.8" fill="none"/>
<text x="300.05" y="241.00" font-size="7.6" fill="#262626" stroke="#262626" stroke-width="0.2" text-anchor="middle">0</text>
<text x="345.10" y="241.00" font-size="7.6" fill="#262626" stroke="#262626" stroke-width="0.2" text-anchor="middle">0.1</text>
<text x="390.15" y="241.00" font-size="7.6" fill="#262626" stroke="#262626" stroke-width="0.2" text-anchor="middle">0.2</text>
<text x="435.20" y="241.00" font-size="7.6" fill="#262626" stroke="#262626" stroke-width="0.2" text-anchor="middle">0.3</text>
<text x="480.25" y="241.00" font-size="7.6" fill="#262626" stroke="#262626" stroke-width="0.2" text-anchor="middle">0.4</text>
<text x="297.45" y="231.91" font-size="7.6" fill="#262626" stroke="#262626" stroke-width="0.2" text-anchor="end">−6</text>
<text x="297.45" y="210.51" font-size="7.6" fill="#262626" stroke="#262626" stroke-width="0.2" text-anchor="end">−4</text>
<text x="297.45" y="189.10" font-size="7.6" fill="#262626" stroke="#262626" stroke-width="0.2" text-anchor="end">−2</text>
<text x="297.45" y="167.70" font-size="7.6" fill="#262626" stroke="#262626" stroke-width="0.2" text-anchor="end">0</text>
<text x="297.45" y="146.30" font-size="7.6" fill="#262626" stroke="#262626" stroke-width="0.2" text-anchor="end">2</text>
<text x="391.15" y="255.00" font-size="8.6" fill="#262626" stroke="#262626" stroke-width="0.2" text-anchor="middle">(<tspan font-style="italic" dx="0.3">σ</tspan><tspan font-size="6.1" dy="-5.2" dx="0.45">2</tspan><tspan dy="5.2" dx="0.2">)</tspan></text>
<text transform="translate(286.70,185.80) rotate(-90)" font-size="8.6" fill="#262626" stroke="#262626" stroke-width="0.2" text-anchor="middle">SNR [dB]</text>
<rect x="490.5" y="143.6" width="51.0" height="87.20000000000002" fill="#fff" stroke="#a2a2a2" stroke-width="1"/>
<line x1="492.70" y1="148.40" x2="512.50" y2="148.40" stroke="#4a7fd6" stroke-width="1.2"/>
<path d="M500.70,146.90L503.70,149.90M500.70,149.90L503.70,146.90" stroke="#1f55c9" stroke-width="1.1"/>
<text transform="translate(514.00,150.90)" font-size="7.3" fill="#1a1a1a" stroke="#1a1a1a" stroke-width="0.15">ABC</text>
<line x1="492.70" y1="158.30" x2="512.50" y2="158.30" stroke="#a85a30" stroke-width="1.2" stroke-dasharray="4,3.9"/>
<text transform="translate(514.00,160.80)" font-size="7.3" fill="#1a1a1a" stroke="#1a1a1a" stroke-width="0.15">ABC<tspan font-size="5.4" dy="3.0" dx="0.2">2</tspan></text>
<line x1="492.70" y1="168.40" x2="512.50" y2="168.40" stroke="#e3b21e" stroke-width="1.2"/>
<path d="M500.70,166.90L503.70,169.90M500.70,169.90L503.70,166.90" stroke="#e0a800" stroke-width="1.1"/>
<text transform="translate(514.00,170.90)" font-size="7.3" fill="#1a1a1a" stroke="#1a1a1a" stroke-width="0.15">DPSO</text>
<line x1="492.70" y1="177.10" x2="512.50" y2="177.10" stroke="#6b35a6" stroke-width="1.2"/>
<path d="M500.70,175.60L503.70,178.60M500.70,178.60L503.70,175.60" stroke="#5a2a9a" stroke-width="1.1"/>
<text transform="translate(514.00,179.60)" font-size="7.3" fill="#1a1a1a" stroke="#1a1a1a" stroke-width="0.15">GA</text>
<line x1="492.70" y1="187.10" x2="512.50" y2="187.10" stroke="#7db33a" stroke-width="1.2" stroke-dasharray="4,3.9"/>
<text transform="translate(514.00,189.60)" font-size="7.3" fill="#1a1a1a" stroke="#1a1a1a" stroke-width="0.15">GA<tspan font-size="5.4" dy="3.0" dx="0.2">2</tspan></text>
<line x1="492.70" y1="197.10" x2="512.50" y2="197.10" stroke="#5db7ec" stroke-width="1.2"/>
<path d="M500.70,195.60L503.70,198.60M500.70,198.60L503.70,195.60" stroke="#6fc0f0" stroke-width="1.1"/>
<text transform="translate(514.00,199.60)" font-size="7.3" fill="#1a1a1a" stroke="#1a1a1a" stroke-width="0.15">K-means</text>
<line x1="492.70" y1="205.90" x2="512.50" y2="205.90" stroke="#7b1717" stroke-width="1.2"/>
<path d="M500.70,204.40L503.70,207.40M500.70,207.40L503.70,204.40" stroke="#6a1010" stroke-width="1.1"/>
<text transform="translate(514.00,208.40)" font-size="7.3" fill="#1a1a1a" stroke="#1a1a1a" stroke-width="0.15">Otsu</text>
<line x1="492.70" y1="214.30" x2="512.50" y2="214.30" stroke="#3566c4" stroke-width="1.2"/>
<path d="M500.70,212.80L503.70,215.80M500.70,215.80L503.70,212.80" stroke="#2a5fcf" stroke-width="1.1"/>
<text transform="translate(514.00,216.80)" font-size="7.3" fill="#1a1a1a" stroke="#1a1a1a" stroke-width="0.15">PSO</text>
<line x1="492.70" y1="223.60" x2="512.50" y2="223.60" stroke="#5a4c42" stroke-width="1.2" stroke-dasharray="4,3.9"/>
<text transform="translate(514.00,226.10)" font-size="7.3" fill="#1a1a1a" stroke="#1a1a1a" stroke-width="0.15">PSO<tspan font-size="5.4" dy="3.0" dx="0.2">2</tspan></text>
</svg></body></html>
